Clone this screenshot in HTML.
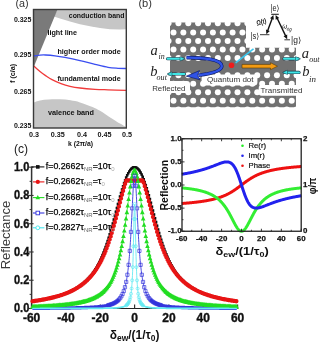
<!DOCTYPE html>
<html><head><meta charset="utf-8"><title>Figure</title>
<style>html,body{margin:0;padding:0;background:#fff;} svg{display:block;}</style></head>
<body><svg width="320" height="342" viewBox="0 0 320 342">
<rect width="320" height="342" fill="#fff"/>
<text x="15.5" y="6.7" font-size="10.5" font-weight="normal" text-anchor="start" fill="#333" font-family='"Liberation Sans", Arial, sans-serif' textLength="13.2" lengthAdjust="spacingAndGlyphs">(a)</text>
<polygon points="57.50,9.50 126.30,9.50 126.30,29.20 120.00,29.50 110.00,29.30 100.00,28.10 90.00,26.30 80.00,24.20 70.00,21.60 60.00,18.60 53.80,16.60" fill="#c6c6c6"/>
<path d="M33.50,102.50 C34.58,102.15 37.46,100.92 40.00,100.40 C42.54,99.88 45.42,99.58 48.75,99.40 C52.08,99.22 56.36,99.15 60.00,99.30 C63.64,99.45 67.27,99.78 70.60,100.30 C73.93,100.82 76.35,101.28 80.00,102.40 C83.65,103.52 89.17,105.60 92.50,107.00 C95.83,108.40 96.92,108.97 100.00,110.80 C103.08,112.63 107.67,115.87 111.00,118.00 C114.33,120.13 117.45,122.07 120.00,123.60 C122.55,125.13 125.25,126.60 126.30,127.20 L126.3,128.0 L33.5,128.0 Z" fill="#c6c6c6"/>
<polygon points="33.50,9.50 57.50,9.50 33.50,67.50" fill="#7a7a7a"/>
<path d="M33.80,56.00 C34.83,55.85 38.03,55.27 40.00,55.10 C41.97,54.93 43.10,54.88 45.60,55.00 C48.10,55.12 51.77,55.40 55.00,55.80 C58.23,56.20 60.83,56.60 65.00,57.40 C69.17,58.20 75.00,59.43 80.00,60.60 C85.00,61.77 90.33,63.27 95.00,64.40 C99.67,65.53 104.17,66.75 108.00,67.40 C111.83,68.05 114.95,68.12 118.00,68.30 C121.05,68.48 124.92,68.47 126.30,68.50" fill="none" stroke="#3a4ef0" stroke-width="1.3"/>
<path d="M33.80,66.00 C34.83,66.92 38.03,69.90 40.00,71.50 C41.97,73.10 43.60,74.25 45.60,75.60 C47.60,76.95 49.43,78.27 52.00,79.60 C54.57,80.93 58.00,82.48 61.00,83.60 C64.00,84.72 66.83,85.57 70.00,86.30 C73.17,87.03 75.83,87.50 80.00,88.00 C84.17,88.50 90.33,89.00 95.00,89.30 C99.67,89.60 102.78,89.63 108.00,89.80 C113.22,89.97 123.25,90.22 126.30,90.30" fill="none" stroke="#f03a3a" stroke-width="1.3"/>
<rect x="33.5" y="9.5" width="92.8" height="118.5" fill="none" stroke="#3a3a3a" stroke-width="1.4"/>
<text x="68.8" y="18.1" font-size="7" font-weight="bold" text-anchor="start" fill="#111" font-family='"Liberation Sans", Arial, sans-serif' textLength="55.7" lengthAdjust="spacingAndGlyphs">conduction band</text>
<text x="47.5" y="35.1" font-size="7" font-weight="bold" text-anchor="start" fill="#111" font-family='"Liberation Sans", Arial, sans-serif' textLength="29.5" lengthAdjust="spacingAndGlyphs">light line</text>
<text x="57.5" y="53.8" font-size="7" font-weight="bold" text-anchor="start" fill="#111" font-family='"Liberation Sans", Arial, sans-serif' textLength="63.1" lengthAdjust="spacingAndGlyphs">higher order mode</text>
<text x="57.5" y="81.0" font-size="7" font-weight="bold" text-anchor="start" fill="#111" font-family='"Liberation Sans", Arial, sans-serif' textLength="63.1" lengthAdjust="spacingAndGlyphs">fundamental mode</text>
<text x="48.0" y="115.1" font-size="7" font-weight="bold" text-anchor="start" fill="#111" font-family='"Liberation Sans", Arial, sans-serif' textLength="46" lengthAdjust="spacingAndGlyphs">valence band</text>
<text x="31.4" y="22.1" font-size="7.2" font-weight="bold" text-anchor="end" fill="#111" font-family='"Liberation Sans", Arial, sans-serif' textLength="17.5" lengthAdjust="spacingAndGlyphs">0.325</text>
<text x="31.4" y="57.1" font-size="7.2" font-weight="bold" text-anchor="end" fill="#111" font-family='"Liberation Sans", Arial, sans-serif' textLength="17.5" lengthAdjust="spacingAndGlyphs">0.295</text>
<text x="31.4" y="93.85" font-size="7.2" font-weight="bold" text-anchor="end" fill="#111" font-family='"Liberation Sans", Arial, sans-serif' textLength="17.5" lengthAdjust="spacingAndGlyphs">0.265</text>
<text x="31.4" y="128.1" font-size="7.2" font-weight="bold" text-anchor="end" fill="#111" font-family='"Liberation Sans", Arial, sans-serif' textLength="17.5" lengthAdjust="spacingAndGlyphs">0.235</text>
<text x="33.9" y="137.1" font-size="7.2" font-weight="bold" text-anchor="middle" fill="#111" font-family='"Liberation Sans", Arial, sans-serif'>0.3</text>
<text x="57.8" y="137.1" font-size="7.2" font-weight="bold" text-anchor="middle" fill="#111" font-family='"Liberation Sans", Arial, sans-serif'>0.35</text>
<text x="82" y="137.1" font-size="7.2" font-weight="bold" text-anchor="middle" fill="#111" font-family='"Liberation Sans", Arial, sans-serif'>0.4</text>
<text x="104.5" y="137.1" font-size="7.2" font-weight="bold" text-anchor="middle" fill="#111" font-family='"Liberation Sans", Arial, sans-serif'>0.45</text>
<text x="127" y="137.1" font-size="7.2" font-weight="bold" text-anchor="middle" fill="#111" font-family='"Liberation Sans", Arial, sans-serif'>0.5</text>
<text x="80.5" y="145.6" font-size="7" font-weight="bold" text-anchor="middle" fill="#111" font-family='"Liberation Sans", Arial, sans-serif' textLength="25" lengthAdjust="spacingAndGlyphs">k (2π/a)</text>
<g transform="translate(15.1,73.4) rotate(-90)"><text x="0" y="0" font-size="7.2" font-weight="bold" text-anchor="middle" fill="#111" font-family='"Liberation Sans", Arial, sans-serif' textLength="19.3" lengthAdjust="spacingAndGlyphs">f (c/a)</text></g>
<text x="138.4" y="6.7" font-size="10.5" font-weight="normal" text-anchor="start" fill="#333" font-family='"Liberation Sans", Arial, sans-serif' textLength="13.6" lengthAdjust="spacingAndGlyphs">(b)</text>
<path d="M170,22.6 H246 V47.8 H296 V107.2 H170 Z" fill="#717171"/>
<g fill="#fff"><circle cx="168.57" cy="23.30" r="3.0"/><circle cx="178.42" cy="23.30" r="3.0"/><circle cx="188.27" cy="23.30" r="3.0"/><circle cx="198.12" cy="23.30" r="3.0"/><circle cx="207.97" cy="23.30" r="3.0"/><circle cx="217.82" cy="23.30" r="3.0"/><circle cx="227.67" cy="23.30" r="3.0"/><circle cx="237.52" cy="23.30" r="3.0"/><circle cx="247.38" cy="23.30" r="3.0"/><circle cx="173.50" cy="32.45" r="3.0"/><circle cx="183.35" cy="32.45" r="3.0"/><circle cx="193.20" cy="32.45" r="3.0"/><circle cx="203.05" cy="32.45" r="3.0"/><circle cx="212.90" cy="32.45" r="3.0"/><circle cx="222.75" cy="32.45" r="3.0"/><circle cx="232.60" cy="32.45" r="3.0"/><circle cx="242.45" cy="32.45" r="3.0"/><circle cx="168.57" cy="41.00" r="3.0"/><circle cx="178.42" cy="41.00" r="3.0"/><circle cx="188.27" cy="41.00" r="3.0"/><circle cx="198.12" cy="41.00" r="3.0"/><circle cx="207.97" cy="41.00" r="3.0"/><circle cx="217.82" cy="41.00" r="3.0"/><circle cx="227.67" cy="41.00" r="3.0"/><circle cx="237.52" cy="41.00" r="3.0"/><circle cx="247.38" cy="41.00" r="3.0"/><circle cx="173.50" cy="49.55" r="3.0"/><circle cx="183.35" cy="49.55" r="3.0"/><circle cx="193.20" cy="49.55" r="3.0"/><circle cx="203.05" cy="49.55" r="3.0"/><circle cx="212.90" cy="49.55" r="3.0"/><circle cx="222.75" cy="49.55" r="3.0"/><circle cx="232.60" cy="49.55" r="3.0"/><circle cx="242.45" cy="49.55" r="3.0"/><circle cx="252.30" cy="49.55" r="3.0"/><circle cx="262.15" cy="49.55" r="3.0"/><circle cx="272.00" cy="49.55" r="3.0"/><circle cx="281.85" cy="49.55" r="3.0"/><circle cx="291.70" cy="49.55" r="3.0"/><circle cx="168.57" cy="58.10" r="3.0"/><circle cx="178.42" cy="58.10" r="3.0"/><circle cx="188.27" cy="58.10" r="3.0"/><circle cx="198.12" cy="58.10" r="3.0"/><circle cx="207.97" cy="58.10" r="3.0"/><circle cx="217.82" cy="58.10" r="3.0"/><circle cx="227.67" cy="58.10" r="3.0"/><circle cx="237.52" cy="58.10" r="3.0"/><circle cx="247.38" cy="58.10" r="3.0"/><circle cx="257.22" cy="58.10" r="3.0"/><circle cx="267.07" cy="58.10" r="3.0"/><circle cx="276.92" cy="58.10" r="3.0"/><circle cx="286.77" cy="58.10" r="3.0"/><circle cx="296.62" cy="58.10" r="3.0"/><circle cx="168.57" cy="75.20" r="3.0"/><circle cx="178.42" cy="75.20" r="3.0"/><circle cx="188.27" cy="75.20" r="3.0"/><circle cx="198.12" cy="75.20" r="3.0"/><circle cx="207.97" cy="75.20" r="3.0"/><circle cx="217.82" cy="75.20" r="3.0"/><circle cx="227.67" cy="75.20" r="3.0"/><circle cx="237.52" cy="75.20" r="3.0"/><circle cx="247.38" cy="75.20" r="3.0"/><circle cx="257.22" cy="75.20" r="3.0"/><circle cx="267.07" cy="75.20" r="3.0"/><circle cx="276.92" cy="75.20" r="3.0"/><circle cx="286.77" cy="75.20" r="3.0"/><circle cx="296.62" cy="75.20" r="3.0"/><circle cx="173.50" cy="83.75" r="3.0"/><circle cx="183.35" cy="83.75" r="3.0"/><circle cx="193.20" cy="83.75" r="3.0"/><circle cx="203.05" cy="83.75" r="3.0"/><circle cx="212.90" cy="83.75" r="3.0"/><circle cx="222.75" cy="83.75" r="3.0"/><circle cx="232.60" cy="83.75" r="3.0"/><circle cx="242.45" cy="83.75" r="3.0"/><circle cx="252.30" cy="83.75" r="3.0"/><circle cx="262.15" cy="83.75" r="3.0"/><circle cx="272.00" cy="83.75" r="3.0"/><circle cx="281.85" cy="83.75" r="3.0"/><circle cx="291.70" cy="83.75" r="3.0"/><circle cx="168.57" cy="92.30" r="3.0"/><circle cx="178.42" cy="92.30" r="3.0"/><circle cx="188.27" cy="92.30" r="3.0"/><circle cx="198.12" cy="92.30" r="3.0"/><circle cx="207.97" cy="92.30" r="3.0"/><circle cx="217.82" cy="92.30" r="3.0"/><circle cx="227.67" cy="92.30" r="3.0"/><circle cx="237.52" cy="92.30" r="3.0"/><circle cx="247.38" cy="92.30" r="3.0"/><circle cx="257.22" cy="92.30" r="3.0"/><circle cx="267.07" cy="92.30" r="3.0"/><circle cx="276.92" cy="92.30" r="3.0"/><circle cx="286.77" cy="92.30" r="3.0"/><circle cx="296.62" cy="92.30" r="3.0"/><circle cx="173.50" cy="100.85" r="3.0"/><circle cx="183.35" cy="100.85" r="3.0"/><circle cx="193.20" cy="100.85" r="3.0"/><circle cx="203.05" cy="100.85" r="3.0"/><circle cx="212.90" cy="100.85" r="3.0"/><circle cx="222.75" cy="100.85" r="3.0"/><circle cx="232.60" cy="100.85" r="3.0"/><circle cx="242.45" cy="100.85" r="3.0"/><circle cx="252.30" cy="100.85" r="3.0"/><circle cx="262.15" cy="100.85" r="3.0"/><circle cx="272.00" cy="100.85" r="3.0"/><circle cx="281.85" cy="100.85" r="3.0"/><circle cx="291.70" cy="100.85" r="3.0"/><circle cx="168.57" cy="109.40" r="3.0"/><circle cx="178.42" cy="109.40" r="3.0"/><circle cx="188.27" cy="109.40" r="3.0"/><circle cx="198.12" cy="109.40" r="3.0"/><circle cx="207.97" cy="109.40" r="3.0"/><circle cx="217.82" cy="109.40" r="3.0"/><circle cx="227.67" cy="109.40" r="3.0"/><circle cx="237.52" cy="109.40" r="3.0"/><circle cx="247.38" cy="109.40" r="3.0"/><circle cx="257.22" cy="109.40" r="3.0"/><circle cx="267.07" cy="109.40" r="3.0"/><circle cx="276.92" cy="109.40" r="3.0"/><circle cx="286.77" cy="109.40" r="3.0"/><circle cx="296.62" cy="109.40" r="3.0"/></g>
<rect x="150" y="81" width="40" height="12" rx="3" fill="#fff"/>
<rect x="201.6" y="74.6" width="55.8" height="10.9" rx="3" fill="#fff"/>
<rect x="258.7" y="84.9" width="45" height="10.9" rx="3" fill="#fff"/>
<text x="152.2" y="90.9" font-size="7.6" font-weight="normal" text-anchor="start" fill="#333" font-family='"Liberation Sans", Arial, sans-serif' textLength="33.2" lengthAdjust="spacingAndGlyphs">Reflected</text>
<text x="207.0" y="82.1" font-size="7.6" font-weight="normal" text-anchor="start" fill="#333" font-family='"Liberation Sans", Arial, sans-serif' textLength="46.6" lengthAdjust="spacingAndGlyphs">Quantum dot</text>
<text x="260.5" y="93.0" font-size="7.6" font-weight="normal" text-anchor="start" fill="#333" font-family='"Liberation Sans", Arial, sans-serif' textLength="42" lengthAdjust="spacingAndGlyphs">Transmitted</text>
<line x1="167.5" y1="58.75" x2="182.5" y2="58.75" stroke="#1d3b4a" stroke-width="3.2" stroke-linecap="round"/><line x1="167.5" y1="58.75" x2="182.5" y2="58.75" stroke="#3fe6e6" stroke-width="2.0" stroke-linecap="round"/><polygon points="185.0,58.75 180.0,56.55 180.0,60.95" fill="#3fe6e6" stroke="#1d3b4a" stroke-width="0.5"/>
<line x1="169.5" y1="74.0" x2="184.5" y2="74.0" stroke="#1d3b4a" stroke-width="3.2" stroke-linecap="round"/><line x1="169.5" y1="74.0" x2="184.5" y2="74.0" stroke="#3fe6e6" stroke-width="2.0" stroke-linecap="round"/><polygon points="167.0,74.0 172.0,71.8 172.0,76.2" fill="#3fe6e6" stroke="#1d3b4a" stroke-width="0.5"/>
<line x1="284.0" y1="58.8" x2="298.0" y2="58.8" stroke="#1d3b4a" stroke-width="3.2" stroke-linecap="round"/><line x1="284.0" y1="58.8" x2="298.0" y2="58.8" stroke="#3fe6e6" stroke-width="2.0" stroke-linecap="round"/><polygon points="300.5,58.8 295.5,56.599999999999994 295.5,61.0" fill="#3fe6e6" stroke="#1d3b4a" stroke-width="0.5"/>
<line x1="285.0" y1="72.4" x2="299.0" y2="72.4" stroke="#1d3b4a" stroke-width="3.2" stroke-linecap="round"/><line x1="285.0" y1="72.4" x2="299.0" y2="72.4" stroke="#3fe6e6" stroke-width="2.0" stroke-linecap="round"/><polygon points="282.5,72.4 287.5,70.2 287.5,74.60000000000001" fill="#3fe6e6" stroke="#1d3b4a" stroke-width="0.5"/>
<text x="150.6" y="55.2" font-size="14.5" font-weight="normal" text-anchor="start" fill="#222" font-family='"Liberation Serif", "Times New Roman", serif' font-style="italic">a</text>
<text x="158.6" y="59.0" font-size="7.8" font-weight="normal" text-anchor="start" fill="#222" font-family='"Liberation Serif", "Times New Roman", serif' textLength="6.2" lengthAdjust="spacingAndGlyphs" font-style="italic">in</text>
<text x="150.2" y="75.9" font-size="14.5" font-weight="normal" text-anchor="start" fill="#222" font-family='"Liberation Serif", "Times New Roman", serif' font-style="italic">b</text>
<text x="156.6" y="79.8" font-size="7.8" font-weight="normal" text-anchor="start" fill="#222" font-family='"Liberation Serif", "Times New Roman", serif' textLength="10.3" lengthAdjust="spacingAndGlyphs" font-style="italic">out</text>
<text x="301.7" y="58.0" font-size="14.5" font-weight="normal" text-anchor="start" fill="#222" font-family='"Liberation Serif", "Times New Roman", serif' font-style="italic">a</text>
<text x="309.2" y="62.2" font-size="7.8" font-weight="normal" text-anchor="start" fill="#222" font-family='"Liberation Serif", "Times New Roman", serif' textLength="10.4" lengthAdjust="spacingAndGlyphs" font-style="italic">out</text>
<text x="302.3" y="76.2" font-size="14.5" font-weight="normal" text-anchor="start" fill="#222" font-family='"Liberation Serif", "Times New Roman", serif' font-style="italic">b</text>
<text x="309.0" y="81.8" font-size="7.8" font-weight="normal" text-anchor="start" fill="#222" font-family='"Liberation Serif", "Times New Roman", serif' textLength="7" lengthAdjust="spacingAndGlyphs" font-style="italic">in</text>
<path d="M186.5,57.6 C203,57.4 221.8,59.5 221.8,66 C221.8,71.5 210,73.8 198.5,75.2" fill="none" stroke="#0d1c66" stroke-width="3.6"/>
<path d="M186.5,57.6 C203,57.4 221.8,59.5 221.8,66 C221.8,71.5 210,73.8 198.5,75.2" fill="none" stroke="#2f52e6" stroke-width="2.4"/>
<polygon points="186.3,76.2 199.5,70.6 197.5,75.4 200,79.8" fill="#2f52e6" stroke="#0d1c66" stroke-width="0.7" stroke-linejoin="round"/>
<line x1="235.6" y1="62.8" x2="253.5" y2="48.8" stroke="#39c8f0" stroke-width="1.6"/>
<circle cx="231.5" cy="65.3" r="2.8" fill="#ee1c1c"/>
<polygon points="242,64.4 270.5,64.4 270.5,62.7 277.5,66.2 270.5,69.7 270.5,68 242,68" fill="#f39a12" stroke="#5a3a00" stroke-width="0.6" stroke-linejoin="round"/>
<text x="275.0" y="11.0" font-size="8.2" font-weight="normal" text-anchor="middle" fill="#222" font-family='"Liberation Sans", "DejaVu Sans", sans-serif' textLength="8.8" lengthAdjust="spacingAndGlyphs">|e⟩</text>
<line x1="271.2" y1="14.3" x2="278.8" y2="14.3" stroke="#222" stroke-width="1.1"/>
<text x="254.8" y="39.4" font-size="8.2" font-weight="normal" text-anchor="middle" fill="#222" font-family='"Liberation Sans", "DejaVu Sans", sans-serif' textLength="8.6" lengthAdjust="spacingAndGlyphs">|s⟩</text>
<line x1="260" y1="34.7" x2="269.4" y2="34.7" stroke="#222" stroke-width="0.9"/>
<text x="296.2" y="43.2" font-size="8.2" font-weight="normal" text-anchor="middle" fill="#222" font-family='"Liberation Sans", "DejaVu Sans", sans-serif' textLength="10.2" lengthAdjust="spacingAndGlyphs">|g⟩</text>
<line x1="284.4" y1="39.8" x2="290" y2="39.8" stroke="#222" stroke-width="0.9"/>
<line x1="272.25" y1="18.16" x2="267.55" y2="31.04" stroke="#111" stroke-width="1.4"/><polygon points="273.40,15.00 270.08,18.26 273.84,19.63" fill="#111"/><polygon points="266.40,34.20 265.96,29.57 269.72,30.94" fill="#111"/>
<line x1="277.05" y1="18.03" x2="285.75" y2="36.17" stroke="#111" stroke-width="1.4"/><polygon points="275.60,15.00 275.61,19.65 279.22,17.92" fill="#111"/><polygon points="287.20,39.20 283.58,36.28 287.19,34.55" fill="#111"/>
<g transform="translate(262.0,24.3) rotate(-18)"><text x="0" y="0" font-size="7.2" font-weight="bold" text-anchor="middle" fill="#222" font-family='"Liberation Sans", Arial, sans-serif' textLength="10" lengthAdjust="spacingAndGlyphs" font-style="italic">Ω(t)</text></g>
<g transform="translate(286.8,28.8) rotate(10)"><text x="0" y="0" font-size="7.5" font-weight="normal" text-anchor="middle" fill="#222" font-family='"Liberation Sans", Arial, sans-serif' textLength="10" lengthAdjust="spacingAndGlyphs" font-style="italic">ω<tspan font-size="5.5" dy="1.8">eg</tspan></text></g>
<text x="13.9" y="152.8" font-size="12.6" font-weight="normal" text-anchor="start" fill="#222" font-family='"Liberation Sans", Arial, sans-serif' textLength="14.2" lengthAdjust="spacingAndGlyphs">(c)</text>
<line x1="31.6" y1="166.5" x2="31.6" y2="308.4" stroke="#333" stroke-width="1.5"/>
<line x1="31.6" y1="308.5" x2="237.5" y2="308.5" stroke="#222" stroke-width="1.2"/>
<line x1="28.8" y1="167.20" x2="33.6" y2="167.20" stroke="#333" stroke-width="1.1"/>
<text x="29.3" y="171.0" font-size="12" font-weight="bold" text-anchor="end" fill="#111" font-family='"Liberation Sans", Arial, sans-serif' textLength="15.3" lengthAdjust="spacingAndGlyphs" stroke="#111" stroke-width="0.35">1.0</text>
<line x1="28.8" y1="195.46" x2="33.6" y2="195.46" stroke="#333" stroke-width="1.1"/>
<text x="29.3" y="199.26" font-size="12" font-weight="bold" text-anchor="end" fill="#111" font-family='"Liberation Sans", Arial, sans-serif' textLength="15.3" lengthAdjust="spacingAndGlyphs" stroke="#111" stroke-width="0.35">0.8</text>
<line x1="28.8" y1="223.72" x2="33.6" y2="223.72" stroke="#333" stroke-width="1.1"/>
<text x="29.3" y="227.52" font-size="12" font-weight="bold" text-anchor="end" fill="#111" font-family='"Liberation Sans", Arial, sans-serif' textLength="15.3" lengthAdjust="spacingAndGlyphs" stroke="#111" stroke-width="0.35">0.6</text>
<line x1="28.8" y1="251.98" x2="33.6" y2="251.98" stroke="#333" stroke-width="1.1"/>
<text x="29.3" y="255.78" font-size="12" font-weight="bold" text-anchor="end" fill="#111" font-family='"Liberation Sans", Arial, sans-serif' textLength="15.3" lengthAdjust="spacingAndGlyphs" stroke="#111" stroke-width="0.35">0.4</text>
<line x1="28.8" y1="280.24" x2="33.6" y2="280.24" stroke="#333" stroke-width="1.1"/>
<text x="29.3" y="284.04" font-size="12" font-weight="bold" text-anchor="end" fill="#111" font-family='"Liberation Sans", Arial, sans-serif' textLength="15.3" lengthAdjust="spacingAndGlyphs" stroke="#111" stroke-width="0.35">0.2</text>
<line x1="28.8" y1="308.50" x2="33.6" y2="308.50" stroke="#333" stroke-width="1.1"/>
<text x="29.3" y="312.3" font-size="12" font-weight="bold" text-anchor="end" fill="#111" font-family='"Liberation Sans", Arial, sans-serif' textLength="15.3" lengthAdjust="spacingAndGlyphs" stroke="#111" stroke-width="0.35">0.0</text>
<line x1="29.6" y1="181.33" x2="31.6" y2="181.33" stroke="#333" stroke-width="1"/>
<line x1="29.6" y1="209.59" x2="31.6" y2="209.59" stroke="#333" stroke-width="1"/>
<line x1="29.6" y1="237.85" x2="31.6" y2="237.85" stroke="#333" stroke-width="1"/>
<line x1="29.6" y1="266.11" x2="31.6" y2="266.11" stroke="#333" stroke-width="1"/>
<line x1="29.6" y1="294.37" x2="31.6" y2="294.37" stroke="#333" stroke-width="1"/>
<line x1="31.60" y1="308.4" x2="31.60" y2="304.5" stroke="#333" stroke-width="1.2"/>
<text x="31.598" y="321.7" font-size="12" font-weight="bold" text-anchor="middle" fill="#111" font-family='"Liberation Sans", Arial, sans-serif' stroke="#111" stroke-width="0.35">-60</text>
<line x1="65.93" y1="308.4" x2="65.93" y2="304.5" stroke="#333" stroke-width="1.2"/>
<text x="65.932" y="321.7" font-size="12" font-weight="bold" text-anchor="middle" fill="#111" font-family='"Liberation Sans", Arial, sans-serif' stroke="#111" stroke-width="0.35">-40</text>
<line x1="100.27" y1="308.4" x2="100.27" y2="304.5" stroke="#333" stroke-width="1.2"/>
<text x="100.26599999999999" y="321.7" font-size="12" font-weight="bold" text-anchor="middle" fill="#111" font-family='"Liberation Sans", Arial, sans-serif' stroke="#111" stroke-width="0.35">-20</text>
<line x1="134.60" y1="308.4" x2="134.60" y2="304.5" stroke="#333" stroke-width="1.2"/>
<text x="134.6" y="321.7" font-size="12" font-weight="bold" text-anchor="middle" fill="#111" font-family='"Liberation Sans", Arial, sans-serif' stroke="#111" stroke-width="0.35">0</text>
<line x1="168.93" y1="308.4" x2="168.93" y2="304.5" stroke="#333" stroke-width="1.2"/>
<text x="168.934" y="321.7" font-size="12" font-weight="bold" text-anchor="middle" fill="#111" font-family='"Liberation Sans", Arial, sans-serif' stroke="#111" stroke-width="0.35">20</text>
<line x1="203.27" y1="308.4" x2="203.27" y2="304.5" stroke="#333" stroke-width="1.2"/>
<text x="203.26799999999997" y="321.7" font-size="12" font-weight="bold" text-anchor="middle" fill="#111" font-family='"Liberation Sans", Arial, sans-serif' stroke="#111" stroke-width="0.35">40</text>
<line x1="237.60" y1="308.4" x2="237.60" y2="304.5" stroke="#333" stroke-width="1.2"/>
<text x="237.60199999999998" y="321.7" font-size="12" font-weight="bold" text-anchor="middle" fill="#111" font-family='"Liberation Sans", Arial, sans-serif' stroke="#111" stroke-width="0.35">60</text>
<polyline points="32.46,301.29 33.17,301.19 33.88,301.09 34.60,300.99 35.31,300.89 36.03,300.78 36.74,300.68 37.45,300.57 38.17,300.46 38.88,300.34 39.60,300.23 40.31,300.11 41.03,299.99 41.74,299.87 42.45,299.74 43.17,299.61 43.88,299.48 44.60,299.34 45.31,299.21 46.02,299.07 46.74,298.92 47.45,298.78 48.17,298.63 48.88,298.47 49.59,298.32 50.31,298.16 51.02,297.99 51.74,297.82 52.45,297.65 53.16,297.47 53.88,297.29 54.59,297.11 55.31,296.92 56.02,296.73 56.74,296.53 57.45,296.32 58.16,296.11 58.88,295.90 59.59,295.68 60.31,295.46 61.02,295.22 61.73,294.99 62.45,294.74 63.16,294.49 63.88,294.24 64.59,293.98 65.30,293.70 66.02,293.43 66.73,293.14 67.45,292.85 68.16,292.55 68.87,292.24 69.59,291.92 70.30,291.59 71.02,291.25 71.73,290.90 72.45,290.54 73.16,290.17 73.87,289.79 74.59,289.40 75.30,288.99 76.02,288.57 76.73,288.14 77.44,287.70 78.16,287.24 78.87,286.76 79.59,286.27 80.30,285.76 81.01,285.24 81.73,284.69 82.44,284.13 83.16,283.55 83.87,282.94 84.58,282.32 85.30,281.67 86.01,280.99 86.73,280.29 87.44,279.57 88.16,278.81 88.87,278.03 89.58,277.22 90.30,276.37 91.01,275.49 91.73,274.57 92.44,273.62 93.15,272.63 93.87,271.59 94.58,270.52 95.30,269.40 96.01,268.23 96.72,267.01 97.44,265.74 98.15,264.42 98.87,263.05 99.58,261.61 100.29,260.12 101.01,258.57 101.72,256.95 102.44,255.27 103.15,253.52 103.87,251.71 104.58,249.83 105.29,247.87 106.01,245.85 106.72,243.76 107.44,241.61 108.15,239.38 108.86,237.09 109.58,234.73 110.29,232.32 111.01,229.85 111.72,227.33 112.43,224.76 113.15,222.14 113.86,219.50 114.58,216.83 115.29,214.14 116.00,211.44 116.72,208.74 117.43,206.04 117.43,206.04 117.61,205.40 117.78,204.75 117.95,204.10 118.12,203.46 118.30,202.82 118.47,202.18 118.64,201.54 118.81,200.90 118.99,200.27 119.16,199.64 119.33,199.01 119.50,198.38 119.68,197.76 119.85,197.14 120.02,196.52 120.19,195.91 120.37,195.30 120.54,194.69 120.71,194.09 120.88,193.49 121.06,192.90 121.23,192.31 121.40,191.72 121.57,191.14 121.75,190.56 121.92,189.99 122.09,189.42 122.26,188.85 122.44,188.30 122.61,187.74 122.78,187.20 122.95,186.65 123.13,186.12 123.30,185.59 123.47,185.06 123.64,184.54 123.82,184.03 123.99,183.52 124.16,183.02 124.33,182.53 124.51,182.04 124.68,181.56 124.85,181.08 125.02,180.61 125.20,180.15 125.37,179.70 125.54,179.25 125.71,178.81 125.89,178.38 126.06,177.95 126.23,177.54 126.40,177.13 126.58,176.72 126.75,176.33 126.92,175.94 127.09,175.56 127.27,175.19 127.44,174.82 127.61,174.47 127.78,174.12 127.96,173.78 128.13,173.45 128.30,173.12 128.48,172.81 128.65,172.50 128.82,172.20 128.99,171.91 129.17,171.63 129.34,171.35 129.51,171.09 129.68,170.83 129.86,170.58 130.03,170.34 130.20,170.11 130.37,169.89 130.55,169.67 130.72,169.47 130.89,169.27 131.06,169.09 131.24,168.91 131.41,168.74 131.58,168.58 131.75,168.42 131.93,168.28 132.10,168.15 132.27,168.02 132.44,167.90 132.62,167.80 132.79,167.70 132.96,167.61 133.13,167.53 133.31,167.45 133.48,167.39 133.65,167.34 133.82,167.29 134.00,167.26 134.17,167.23 134.34,167.21 134.51,167.20 134.69,167.20 134.86,167.21 135.03,167.23 135.20,167.26 135.38,167.29 135.55,167.34 135.72,167.39 135.89,167.45 136.07,167.53 136.24,167.61 136.41,167.70 136.58,167.80 136.76,167.90 136.93,168.02 137.10,168.15 137.27,168.28 137.45,168.42 137.62,168.58 137.79,168.74 137.96,168.91 138.14,169.09 138.31,169.27 138.48,169.47 138.65,169.67 138.83,169.89 139.00,170.11 139.17,170.34 139.34,170.58 139.52,170.83 139.69,171.09 139.86,171.35 140.03,171.63 140.21,171.91 140.38,172.20 140.55,172.50 140.72,172.81 140.90,173.12 141.07,173.45 141.24,173.78 141.42,174.12 141.59,174.47 141.76,174.82 141.93,175.19 142.11,175.56 142.28,175.94 142.45,176.33 142.62,176.72 142.80,177.13 142.97,177.54 143.14,177.95 143.31,178.38 143.49,178.81 143.66,179.25 143.83,179.70 144.00,180.15 144.18,180.61 144.35,181.08 144.52,181.56 144.69,182.04 144.87,182.53 145.04,183.02 145.21,183.52 145.38,184.03 145.56,184.54 145.73,185.06 145.90,185.59 146.07,186.12 146.25,186.65 146.42,187.20 146.59,187.74 146.76,188.30 146.94,188.85 147.11,189.42 147.28,189.99 147.45,190.56 147.63,191.14 147.80,191.72 147.97,192.31 148.14,192.90 148.32,193.49 148.49,194.09 148.66,194.69 148.83,195.30 149.01,195.91 149.18,196.52 149.35,197.14 149.52,197.76 149.70,198.38 149.87,199.01 150.04,199.64 150.21,200.27 150.39,200.90 150.56,201.54 150.73,202.18 150.90,202.82 151.08,203.46 151.25,204.10 151.42,204.75 151.59,205.40 151.77,206.04 151.77,206.04 152.48,208.74 153.20,211.44 153.91,214.14 154.62,216.83 155.34,219.50 156.05,222.14 156.77,224.76 157.48,227.33 158.19,229.85 158.91,232.32 159.62,234.73 160.34,237.09 161.05,239.38 161.76,241.61 162.48,243.76 163.19,245.85 163.91,247.87 164.62,249.83 165.33,251.71 166.05,253.52 166.76,255.27 167.48,256.95 168.19,258.57 168.91,260.12 169.62,261.61 170.33,263.05 171.05,264.42 171.76,265.74 172.48,267.01 173.19,268.23 173.90,269.40 174.62,270.52 175.33,271.59 176.05,272.63 176.76,273.62 177.47,274.57 178.19,275.49 178.90,276.37 179.62,277.22 180.33,278.03 181.04,278.81 181.76,279.57 182.47,280.29 183.19,280.99 183.90,281.67 184.62,282.32 185.33,282.94 186.04,283.55 186.76,284.13 187.47,284.69 188.19,285.24 188.90,285.76 189.61,286.27 190.33,286.76 191.04,287.24 191.76,287.70 192.47,288.14 193.18,288.57 193.90,288.99 194.61,289.40 195.33,289.79 196.04,290.17 196.75,290.54 197.47,290.90 198.18,291.25 198.90,291.59 199.61,291.92 200.33,292.24 201.04,292.55 201.75,292.85 202.47,293.14 203.18,293.43 203.90,293.70 204.61,293.98 205.32,294.24 206.04,294.49 206.75,294.74 207.47,294.99 208.18,295.22 208.89,295.46 209.61,295.68 210.32,295.90 211.04,296.11 211.75,296.32 212.46,296.53 213.18,296.73 213.89,296.92 214.61,297.11 215.32,297.29 216.04,297.47 216.75,297.65 217.46,297.82 218.18,297.99 218.89,298.16 219.61,298.32 220.32,298.47 221.03,298.63 221.75,298.78 222.46,298.92 223.18,299.07 223.89,299.21 224.60,299.34 225.32,299.48 226.03,299.61 226.75,299.74 227.46,299.87 228.17,299.99 228.89,300.11 229.60,300.23 230.32,300.34 231.03,300.46 231.75,300.57 232.46,300.68 233.17,300.78 233.89,300.89 234.60,300.99 235.32,301.09 236.03,301.19 236.74,301.29" fill="none" stroke="#111" stroke-width="1.2" stroke-linejoin="round"/>
<path d="M31.16,299.99h2.6v2.6h-2.6ZM32.19,299.85h2.6v2.6h-2.6ZM33.22,299.70h2.6v2.6h-2.6ZM34.25,299.55h2.6v2.6h-2.6ZM35.28,299.40h2.6v2.6h-2.6ZM36.31,299.25h2.6v2.6h-2.6ZM37.34,299.08h2.6v2.6h-2.6ZM38.37,298.92h2.6v2.6h-2.6ZM39.40,298.74h2.6v2.6h-2.6ZM40.43,298.57h2.6v2.6h-2.6ZM41.46,298.39h2.6v2.6h-2.6ZM42.49,298.20h2.6v2.6h-2.6ZM43.52,298.00h2.6v2.6h-2.6ZM44.55,297.80h2.6v2.6h-2.6ZM45.58,297.60h2.6v2.6h-2.6ZM46.61,297.38h2.6v2.6h-2.6ZM47.64,297.16h2.6v2.6h-2.6ZM48.67,296.93h2.6v2.6h-2.6ZM49.70,296.70h2.6v2.6h-2.6ZM50.73,296.45h2.6v2.6h-2.6ZM51.76,296.20h2.6v2.6h-2.6ZM52.79,295.94h2.6v2.6h-2.6ZM53.82,295.67h2.6v2.6h-2.6ZM54.85,295.39h2.6v2.6h-2.6ZM55.88,295.10h2.6v2.6h-2.6ZM56.91,294.80h2.6v2.6h-2.6ZM57.94,294.49h2.6v2.6h-2.6ZM58.97,294.17h2.6v2.6h-2.6ZM60.00,293.83h2.6v2.6h-2.6ZM61.03,293.49h2.6v2.6h-2.6ZM62.06,293.13h2.6v2.6h-2.6ZM63.09,292.75h2.6v2.6h-2.6ZM64.12,292.36h2.6v2.6h-2.6ZM65.15,291.96h2.6v2.6h-2.6ZM66.18,291.54h2.6v2.6h-2.6ZM67.21,291.10h2.6v2.6h-2.6ZM68.24,290.64h2.6v2.6h-2.6ZM69.27,290.16h2.6v2.6h-2.6ZM70.30,289.67h2.6v2.6h-2.6ZM71.33,289.15h2.6v2.6h-2.6ZM72.36,288.61h2.6v2.6h-2.6ZM73.39,288.04h2.6v2.6h-2.6ZM74.42,287.45h2.6v2.6h-2.6ZM75.45,286.83h2.6v2.6h-2.6ZM76.48,286.18h2.6v2.6h-2.6ZM77.51,285.51h2.6v2.6h-2.6ZM78.54,284.79h2.6v2.6h-2.6ZM79.57,284.05h2.6v2.6h-2.6ZM80.60,283.26h2.6v2.6h-2.6ZM81.63,282.44h2.6v2.6h-2.6ZM82.66,281.57h2.6v2.6h-2.6ZM83.69,280.65h2.6v2.6h-2.6ZM84.72,279.69h2.6v2.6h-2.6ZM85.75,278.67h2.6v2.6h-2.6ZM86.78,277.60h2.6v2.6h-2.6ZM87.81,276.46h2.6v2.6h-2.6ZM88.84,275.26h2.6v2.6h-2.6ZM89.87,273.99h2.6v2.6h-2.6ZM90.90,272.65h2.6v2.6h-2.6ZM91.93,271.22h2.6v2.6h-2.6ZM92.96,269.71h2.6v2.6h-2.6ZM93.99,268.11h2.6v2.6h-2.6ZM95.02,266.41h2.6v2.6h-2.6ZM96.05,264.61h2.6v2.6h-2.6ZM97.08,262.70h2.6v2.6h-2.6ZM98.11,260.67h2.6v2.6h-2.6ZM99.14,258.51h2.6v2.6h-2.6ZM100.17,256.24h2.6v2.6h-2.6ZM101.20,253.82h2.6v2.6h-2.6ZM102.23,251.27h2.6v2.6h-2.6ZM103.26,248.58h2.6v2.6h-2.6ZM104.29,245.75h2.6v2.6h-2.6ZM105.32,242.77h2.6v2.6h-2.6ZM106.35,239.65h2.6v2.6h-2.6ZM107.38,236.39h2.6v2.6h-2.6ZM108.41,233.00h2.6v2.6h-2.6ZM109.44,229.48h2.6v2.6h-2.6ZM110.47,225.86h2.6v2.6h-2.6ZM111.50,222.13h2.6v2.6h-2.6ZM112.53,218.33h2.6v2.6h-2.6ZM113.56,214.47h2.6v2.6h-2.6ZM114.59,210.58h2.6v2.6h-2.6ZM115.62,206.68h2.6v2.6h-2.6ZM116.65,202.81h2.6v2.6h-2.6ZM117.68,199.00h2.6v2.6h-2.6ZM118.71,195.27h2.6v2.6h-2.6ZM119.74,191.66h2.6v2.6h-2.6ZM120.77,188.19h2.6v2.6h-2.6ZM121.80,184.90h2.6v2.6h-2.6ZM122.83,181.82h2.6v2.6h-2.6ZM123.86,178.96h2.6v2.6h-2.6ZM124.89,176.34h2.6v2.6h-2.6ZM125.92,173.99h2.6v2.6h-2.6ZM126.95,171.92h2.6v2.6h-2.6ZM127.98,170.15h2.6v2.6h-2.6ZM129.01,168.67h2.6v2.6h-2.6ZM130.04,167.50h2.6v2.6h-2.6ZM131.07,166.65h2.6v2.6h-2.6ZM132.10,166.12h2.6v2.6h-2.6ZM133.13,165.90h2.6v2.6h-2.6ZM134.16,166.01h2.6v2.6h-2.6ZM135.19,166.44h2.6v2.6h-2.6ZM136.22,167.19h2.6v2.6h-2.6ZM137.25,168.25h2.6v2.6h-2.6ZM138.28,169.62h2.6v2.6h-2.6ZM139.31,171.30h2.6v2.6h-2.6ZM140.34,173.27h2.6v2.6h-2.6ZM141.37,175.53h2.6v2.6h-2.6ZM142.40,178.06h2.6v2.6h-2.6ZM143.43,180.84h2.6v2.6h-2.6ZM144.46,183.85h2.6v2.6h-2.6ZM145.49,187.08h2.6v2.6h-2.6ZM146.52,190.49h2.6v2.6h-2.6ZM147.55,194.05h2.6v2.6h-2.6ZM148.58,197.75h2.6v2.6h-2.6ZM149.61,201.54h2.6v2.6h-2.6ZM150.64,205.39h2.6v2.6h-2.6ZM151.67,209.28h2.6v2.6h-2.6ZM152.70,213.18h2.6v2.6h-2.6ZM153.73,217.05h2.6v2.6h-2.6ZM154.76,220.87h2.6v2.6h-2.6ZM155.79,224.62h2.6v2.6h-2.6ZM156.82,228.29h2.6v2.6h-2.6ZM157.85,231.84h2.6v2.6h-2.6ZM158.88,235.28h2.6v2.6h-2.6ZM159.91,238.58h2.6v2.6h-2.6ZM160.94,241.75h2.6v2.6h-2.6ZM161.97,244.77h2.6v2.6h-2.6ZM163.00,247.65h2.6v2.6h-2.6ZM164.03,250.39h2.6v2.6h-2.6ZM165.06,252.99h2.6v2.6h-2.6ZM166.09,255.45h2.6v2.6h-2.6ZM167.12,257.77h2.6v2.6h-2.6ZM168.15,259.96h2.6v2.6h-2.6ZM169.18,262.03h2.6v2.6h-2.6ZM170.21,263.98h2.6v2.6h-2.6ZM171.24,265.82h2.6v2.6h-2.6ZM172.27,267.56h2.6v2.6h-2.6ZM173.30,269.19h2.6v2.6h-2.6ZM174.33,270.73h2.6v2.6h-2.6ZM175.36,272.18h2.6v2.6h-2.6ZM176.39,273.55h2.6v2.6h-2.6ZM177.42,274.85h2.6v2.6h-2.6ZM178.45,276.07h2.6v2.6h-2.6ZM179.48,277.23h2.6v2.6h-2.6ZM180.51,278.32h2.6v2.6h-2.6ZM181.54,279.36h2.6v2.6h-2.6ZM182.57,280.34h2.6v2.6h-2.6ZM183.60,281.27h2.6v2.6h-2.6ZM184.63,282.15h2.6v2.6h-2.6ZM185.66,282.99h2.6v2.6h-2.6ZM186.69,283.79h2.6v2.6h-2.6ZM187.72,284.55h2.6v2.6h-2.6ZM188.75,285.27h2.6v2.6h-2.6ZM189.78,285.96h2.6v2.6h-2.6ZM190.81,286.62h2.6v2.6h-2.6ZM191.84,287.25h2.6v2.6h-2.6ZM192.87,287.85h2.6v2.6h-2.6ZM193.90,288.42h2.6v2.6h-2.6ZM194.93,288.97h2.6v2.6h-2.6ZM195.96,289.50h2.6v2.6h-2.6ZM196.99,290.00h2.6v2.6h-2.6ZM198.02,290.48h2.6v2.6h-2.6ZM199.05,290.95h2.6v2.6h-2.6ZM200.08,291.39h2.6v2.6h-2.6ZM201.11,291.82h2.6v2.6h-2.6ZM202.14,292.23h2.6v2.6h-2.6ZM203.17,292.62h2.6v2.6h-2.6ZM204.20,293.00h2.6v2.6h-2.6ZM205.23,293.37h2.6v2.6h-2.6ZM206.26,293.72h2.6v2.6h-2.6ZM207.29,294.06h2.6v2.6h-2.6ZM208.32,294.38h2.6v2.6h-2.6ZM209.35,294.70h2.6v2.6h-2.6ZM210.38,295.00h2.6v2.6h-2.6ZM211.41,295.30h2.6v2.6h-2.6ZM212.44,295.58h2.6v2.6h-2.6ZM213.47,295.85h2.6v2.6h-2.6ZM214.50,296.12h2.6v2.6h-2.6ZM215.53,296.37h2.6v2.6h-2.6ZM216.56,296.62h2.6v2.6h-2.6ZM217.59,296.86h2.6v2.6h-2.6ZM218.62,297.09h2.6v2.6h-2.6ZM219.65,297.31h2.6v2.6h-2.6ZM220.68,297.52h2.6v2.6h-2.6ZM221.71,297.73h2.6v2.6h-2.6ZM222.74,297.94h2.6v2.6h-2.6ZM223.77,298.13h2.6v2.6h-2.6ZM224.80,298.32h2.6v2.6h-2.6ZM225.83,298.51h2.6v2.6h-2.6ZM226.86,298.69h2.6v2.6h-2.6ZM227.89,298.86h2.6v2.6h-2.6ZM228.92,299.03h2.6v2.6h-2.6ZM229.95,299.19h2.6v2.6h-2.6ZM230.98,299.35h2.6v2.6h-2.6ZM232.01,299.50h2.6v2.6h-2.6ZM233.04,299.65h2.6v2.6h-2.6ZM234.07,299.80h2.6v2.6h-2.6ZM235.10,299.94h2.6v2.6h-2.6Z" fill="#111"/>
<polyline points="32.46,301.29 33.17,301.19 33.88,301.09 34.60,300.99 35.31,300.89 36.03,300.78 36.74,300.68 37.45,300.57 38.17,300.46 38.88,300.34 39.60,300.23 40.31,300.11 41.03,299.99 41.74,299.87 42.45,299.74 43.17,299.61 43.88,299.48 44.60,299.34 45.31,299.21 46.02,299.07 46.74,298.92 47.45,298.78 48.17,298.63 48.88,298.47 49.59,298.32 50.31,298.16 51.02,297.99 51.74,297.82 52.45,297.65 53.16,297.47 53.88,297.29 54.59,297.11 55.31,296.92 56.02,296.73 56.74,296.53 57.45,296.32 58.16,296.12 58.88,295.90 59.59,295.68 60.31,295.46 61.02,295.23 61.73,294.99 62.45,294.75 63.16,294.50 63.88,294.24 64.59,293.98 65.30,293.71 66.02,293.44 66.73,293.15 67.45,292.86 68.16,292.56 68.87,292.25 69.59,291.94 70.30,291.61 71.02,291.28 71.73,290.93 72.45,290.58 73.16,290.21 73.87,289.84 74.59,289.45 75.30,289.05 76.02,288.64 76.73,288.22 77.44,287.78 78.16,287.33 78.87,286.87 79.59,286.39 80.30,285.90 81.01,285.39 81.73,284.87 82.44,284.33 83.16,283.77 83.87,283.19 84.58,282.59 85.30,281.98 86.01,281.34 86.73,280.68 87.44,280.00 88.16,279.30 88.87,278.57 89.58,277.81 90.30,277.03 91.01,276.22 91.73,275.38 92.44,274.51 93.15,273.60 93.87,272.67 94.58,271.70 95.30,270.69 96.01,269.64 96.72,268.55 97.44,267.43 98.15,266.25 98.87,265.03 99.58,263.77 100.29,262.45 101.01,261.09 101.72,259.67 102.44,258.19 103.15,256.66 103.87,255.06 104.58,253.41 105.29,251.69 106.01,249.91 106.72,248.06 107.44,246.14 108.15,244.16 108.86,242.10 109.58,239.98 110.29,237.78 111.01,235.52 111.72,233.19 112.43,230.80 113.15,228.34 113.86,225.83 114.58,223.26 115.29,220.64 116.00,217.97 116.72,215.27 117.43,212.54 117.43,212.54 117.61,211.87 117.78,211.21 117.95,210.54 118.12,209.87 118.30,209.21 118.47,208.54 118.64,207.87 118.81,207.20 118.99,206.53 119.16,205.86 119.33,205.20 119.50,204.53 119.68,203.86 119.85,203.19 120.02,202.53 120.19,201.86 120.37,201.20 120.54,200.53 120.71,199.87 120.88,199.21 121.06,198.55 121.23,197.90 121.40,197.24 121.57,196.59 121.75,195.94 121.92,195.30 122.09,194.66 122.26,194.02 122.44,193.38 122.61,192.74 122.78,192.12 122.95,191.49 123.13,190.87 123.30,190.25 123.47,189.64 123.64,189.03 123.82,188.42 123.99,187.83 124.16,187.23 124.33,186.64 124.51,186.06 124.68,185.48 124.85,184.91 125.02,184.35 125.20,183.79 125.37,183.24 125.54,182.69 125.71,182.15 125.89,181.62 126.06,181.10 126.23,180.62 126.40,180.62 126.58,180.62 126.75,180.62 126.92,180.62 127.09,180.62 127.27,180.62 127.44,180.62 127.61,180.62 127.78,180.62 127.96,180.62 128.13,180.62 128.30,180.62 128.48,180.62 128.65,180.62 128.82,180.62 128.99,180.62 129.17,180.62 129.34,180.62 129.51,180.62 129.68,180.62 129.86,180.62 130.03,180.62 130.20,180.62 130.37,180.62 130.55,180.62 130.72,180.62 130.89,180.62 131.06,180.62 131.24,180.62 131.41,180.62 131.58,180.62 131.75,180.62 131.93,180.62 132.10,180.62 132.27,180.62 132.44,180.62 132.62,180.62 132.79,180.62 132.96,180.62 133.13,180.62 133.31,180.62 133.48,180.62 133.65,180.62 133.82,180.62 134.00,180.62 134.17,180.62 134.34,180.62 134.51,180.62 134.69,180.62 134.86,180.62 135.03,180.62 135.20,180.62 135.38,180.62 135.55,180.62 135.72,180.62 135.89,180.62 136.07,180.62 136.24,180.62 136.41,180.62 136.58,180.62 136.76,180.62 136.93,180.62 137.10,180.62 137.27,180.62 137.45,180.62 137.62,180.62 137.79,180.62 137.96,180.62 138.14,180.62 138.31,180.62 138.48,180.62 138.65,180.62 138.83,180.62 139.00,180.62 139.17,180.62 139.34,180.62 139.52,180.62 139.69,180.62 139.86,180.62 140.03,180.62 140.21,180.62 140.38,180.62 140.55,180.62 140.72,180.62 140.90,180.62 141.07,180.62 141.24,180.62 141.42,180.62 141.59,180.62 141.76,180.62 141.93,180.62 142.11,180.62 142.28,180.62 142.45,180.62 142.62,180.62 142.80,180.62 142.97,180.62 143.14,181.10 143.31,181.62 143.49,182.15 143.66,182.69 143.83,183.24 144.00,183.79 144.18,184.35 144.35,184.91 144.52,185.48 144.69,186.06 144.87,186.64 145.04,187.23 145.21,187.83 145.38,188.42 145.56,189.03 145.73,189.64 145.90,190.25 146.07,190.87 146.25,191.49 146.42,192.12 146.59,192.74 146.76,193.38 146.94,194.02 147.11,194.66 147.28,195.30 147.45,195.94 147.63,196.59 147.80,197.24 147.97,197.90 148.14,198.55 148.32,199.21 148.49,199.87 148.66,200.53 148.83,201.20 149.01,201.86 149.18,202.53 149.35,203.19 149.52,203.86 149.70,204.53 149.87,205.20 150.04,205.86 150.21,206.53 150.39,207.20 150.56,207.87 150.73,208.54 150.90,209.21 151.08,209.87 151.25,210.54 151.42,211.21 151.59,211.87 151.77,212.54 151.77,212.54 152.48,215.27 153.20,217.97 153.91,220.64 154.62,223.26 155.34,225.83 156.05,228.34 156.77,230.80 157.48,233.19 158.19,235.52 158.91,237.78 159.62,239.98 160.34,242.10 161.05,244.16 161.76,246.14 162.48,248.06 163.19,249.91 163.91,251.69 164.62,253.41 165.33,255.06 166.05,256.66 166.76,258.19 167.48,259.67 168.19,261.09 168.91,262.45 169.62,263.77 170.33,265.03 171.05,266.25 171.76,267.43 172.48,268.55 173.19,269.64 173.90,270.69 174.62,271.70 175.33,272.67 176.05,273.60 176.76,274.51 177.47,275.38 178.19,276.22 178.90,277.03 179.62,277.81 180.33,278.57 181.04,279.30 181.76,280.00 182.47,280.68 183.19,281.34 183.90,281.98 184.62,282.59 185.33,283.19 186.04,283.77 186.76,284.33 187.47,284.87 188.19,285.39 188.90,285.90 189.61,286.39 190.33,286.87 191.04,287.33 191.76,287.78 192.47,288.22 193.18,288.64 193.90,289.05 194.61,289.45 195.33,289.84 196.04,290.21 196.75,290.58 197.47,290.93 198.18,291.28 198.90,291.61 199.61,291.94 200.33,292.25 201.04,292.56 201.75,292.86 202.47,293.15 203.18,293.44 203.90,293.71 204.61,293.98 205.32,294.24 206.04,294.50 206.75,294.75 207.47,294.99 208.18,295.23 208.89,295.46 209.61,295.68 210.32,295.90 211.04,296.12 211.75,296.32 212.46,296.53 213.18,296.73 213.89,296.92 214.61,297.11 215.32,297.29 216.04,297.47 216.75,297.65 217.46,297.82 218.18,297.99 218.89,298.16 219.61,298.32 220.32,298.47 221.03,298.63 221.75,298.78 222.46,298.92 223.18,299.07 223.89,299.21 224.60,299.34 225.32,299.48 226.03,299.61 226.75,299.74 227.46,299.87 228.17,299.99 228.89,300.11 229.60,300.23 230.32,300.34 231.03,300.46 231.75,300.57 232.46,300.68 233.17,300.78 233.89,300.89 234.60,300.99 235.32,301.09 236.03,301.19 236.74,301.29" fill="none" stroke="#e81414" stroke-width="1.5" stroke-linejoin="round"/>
<path d="M30.31,301.29a2.15,2.15 0 1,0 4.3,0a2.15,2.15 0 1,0 -4.3,0ZM31.34,301.15a2.15,2.15 0 1,0 4.3,0a2.15,2.15 0 1,0 -4.3,0ZM32.37,301.00a2.15,2.15 0 1,0 4.3,0a2.15,2.15 0 1,0 -4.3,0ZM33.40,300.85a2.15,2.15 0 1,0 4.3,0a2.15,2.15 0 1,0 -4.3,0ZM34.43,300.70a2.15,2.15 0 1,0 4.3,0a2.15,2.15 0 1,0 -4.3,0ZM35.46,300.55a2.15,2.15 0 1,0 4.3,0a2.15,2.15 0 1,0 -4.3,0ZM36.49,300.38a2.15,2.15 0 1,0 4.3,0a2.15,2.15 0 1,0 -4.3,0ZM37.52,300.22a2.15,2.15 0 1,0 4.3,0a2.15,2.15 0 1,0 -4.3,0ZM38.55,300.04a2.15,2.15 0 1,0 4.3,0a2.15,2.15 0 1,0 -4.3,0ZM39.58,299.87a2.15,2.15 0 1,0 4.3,0a2.15,2.15 0 1,0 -4.3,0ZM40.61,299.69a2.15,2.15 0 1,0 4.3,0a2.15,2.15 0 1,0 -4.3,0ZM41.64,299.50a2.15,2.15 0 1,0 4.3,0a2.15,2.15 0 1,0 -4.3,0ZM42.67,299.30a2.15,2.15 0 1,0 4.3,0a2.15,2.15 0 1,0 -4.3,0ZM43.70,299.10a2.15,2.15 0 1,0 4.3,0a2.15,2.15 0 1,0 -4.3,0ZM44.73,298.90a2.15,2.15 0 1,0 4.3,0a2.15,2.15 0 1,0 -4.3,0ZM45.76,298.68a2.15,2.15 0 1,0 4.3,0a2.15,2.15 0 1,0 -4.3,0ZM46.79,298.46a2.15,2.15 0 1,0 4.3,0a2.15,2.15 0 1,0 -4.3,0ZM47.82,298.23a2.15,2.15 0 1,0 4.3,0a2.15,2.15 0 1,0 -4.3,0ZM48.85,298.00a2.15,2.15 0 1,0 4.3,0a2.15,2.15 0 1,0 -4.3,0ZM49.88,297.75a2.15,2.15 0 1,0 4.3,0a2.15,2.15 0 1,0 -4.3,0ZM50.91,297.50a2.15,2.15 0 1,0 4.3,0a2.15,2.15 0 1,0 -4.3,0ZM51.94,297.24a2.15,2.15 0 1,0 4.3,0a2.15,2.15 0 1,0 -4.3,0ZM52.97,296.97a2.15,2.15 0 1,0 4.3,0a2.15,2.15 0 1,0 -4.3,0ZM54.00,296.69a2.15,2.15 0 1,0 4.3,0a2.15,2.15 0 1,0 -4.3,0ZM55.03,296.40a2.15,2.15 0 1,0 4.3,0a2.15,2.15 0 1,0 -4.3,0ZM56.06,296.10a2.15,2.15 0 1,0 4.3,0a2.15,2.15 0 1,0 -4.3,0ZM57.09,295.79a2.15,2.15 0 1,0 4.3,0a2.15,2.15 0 1,0 -4.3,0ZM58.12,295.47a2.15,2.15 0 1,0 4.3,0a2.15,2.15 0 1,0 -4.3,0ZM59.15,295.14a2.15,2.15 0 1,0 4.3,0a2.15,2.15 0 1,0 -4.3,0ZM60.18,294.79a2.15,2.15 0 1,0 4.3,0a2.15,2.15 0 1,0 -4.3,0ZM61.21,294.43a2.15,2.15 0 1,0 4.3,0a2.15,2.15 0 1,0 -4.3,0ZM62.24,294.06a2.15,2.15 0 1,0 4.3,0a2.15,2.15 0 1,0 -4.3,0ZM63.27,293.67a2.15,2.15 0 1,0 4.3,0a2.15,2.15 0 1,0 -4.3,0ZM64.30,293.27a2.15,2.15 0 1,0 4.3,0a2.15,2.15 0 1,0 -4.3,0ZM65.33,292.85a2.15,2.15 0 1,0 4.3,0a2.15,2.15 0 1,0 -4.3,0ZM66.36,292.41a2.15,2.15 0 1,0 4.3,0a2.15,2.15 0 1,0 -4.3,0ZM67.39,291.96a2.15,2.15 0 1,0 4.3,0a2.15,2.15 0 1,0 -4.3,0ZM68.42,291.49a2.15,2.15 0 1,0 4.3,0a2.15,2.15 0 1,0 -4.3,0ZM69.45,291.00a2.15,2.15 0 1,0 4.3,0a2.15,2.15 0 1,0 -4.3,0ZM70.48,290.48a2.15,2.15 0 1,0 4.3,0a2.15,2.15 0 1,0 -4.3,0ZM71.51,289.95a2.15,2.15 0 1,0 4.3,0a2.15,2.15 0 1,0 -4.3,0ZM72.54,289.39a2.15,2.15 0 1,0 4.3,0a2.15,2.15 0 1,0 -4.3,0ZM73.57,288.81a2.15,2.15 0 1,0 4.3,0a2.15,2.15 0 1,0 -4.3,0ZM74.60,288.21a2.15,2.15 0 1,0 4.3,0a2.15,2.15 0 1,0 -4.3,0ZM75.63,287.57a2.15,2.15 0 1,0 4.3,0a2.15,2.15 0 1,0 -4.3,0ZM76.66,286.91a2.15,2.15 0 1,0 4.3,0a2.15,2.15 0 1,0 -4.3,0ZM77.69,286.22a2.15,2.15 0 1,0 4.3,0a2.15,2.15 0 1,0 -4.3,0ZM78.72,285.50a2.15,2.15 0 1,0 4.3,0a2.15,2.15 0 1,0 -4.3,0ZM79.75,284.74a2.15,2.15 0 1,0 4.3,0a2.15,2.15 0 1,0 -4.3,0ZM80.78,283.95a2.15,2.15 0 1,0 4.3,0a2.15,2.15 0 1,0 -4.3,0ZM81.81,283.12a2.15,2.15 0 1,0 4.3,0a2.15,2.15 0 1,0 -4.3,0ZM82.84,282.25a2.15,2.15 0 1,0 4.3,0a2.15,2.15 0 1,0 -4.3,0ZM83.87,281.34a2.15,2.15 0 1,0 4.3,0a2.15,2.15 0 1,0 -4.3,0ZM84.90,280.38a2.15,2.15 0 1,0 4.3,0a2.15,2.15 0 1,0 -4.3,0ZM85.93,279.37a2.15,2.15 0 1,0 4.3,0a2.15,2.15 0 1,0 -4.3,0ZM86.96,278.32a2.15,2.15 0 1,0 4.3,0a2.15,2.15 0 1,0 -4.3,0ZM87.99,277.21a2.15,2.15 0 1,0 4.3,0a2.15,2.15 0 1,0 -4.3,0ZM89.02,276.04a2.15,2.15 0 1,0 4.3,0a2.15,2.15 0 1,0 -4.3,0ZM90.05,274.81a2.15,2.15 0 1,0 4.3,0a2.15,2.15 0 1,0 -4.3,0ZM91.08,273.51a2.15,2.15 0 1,0 4.3,0a2.15,2.15 0 1,0 -4.3,0ZM92.11,272.14a2.15,2.15 0 1,0 4.3,0a2.15,2.15 0 1,0 -4.3,0ZM93.14,270.70a2.15,2.15 0 1,0 4.3,0a2.15,2.15 0 1,0 -4.3,0ZM94.17,269.18a2.15,2.15 0 1,0 4.3,0a2.15,2.15 0 1,0 -4.3,0ZM95.20,267.57a2.15,2.15 0 1,0 4.3,0a2.15,2.15 0 1,0 -4.3,0ZM96.23,265.87a2.15,2.15 0 1,0 4.3,0a2.15,2.15 0 1,0 -4.3,0ZM97.26,264.08a2.15,2.15 0 1,0 4.3,0a2.15,2.15 0 1,0 -4.3,0ZM98.29,262.19a2.15,2.15 0 1,0 4.3,0a2.15,2.15 0 1,0 -4.3,0ZM99.32,260.18a2.15,2.15 0 1,0 4.3,0a2.15,2.15 0 1,0 -4.3,0ZM100.35,258.06a2.15,2.15 0 1,0 4.3,0a2.15,2.15 0 1,0 -4.3,0ZM101.38,255.82a2.15,2.15 0 1,0 4.3,0a2.15,2.15 0 1,0 -4.3,0ZM102.41,253.46a2.15,2.15 0 1,0 4.3,0a2.15,2.15 0 1,0 -4.3,0ZM103.44,250.96a2.15,2.15 0 1,0 4.3,0a2.15,2.15 0 1,0 -4.3,0ZM104.47,248.33a2.15,2.15 0 1,0 4.3,0a2.15,2.15 0 1,0 -4.3,0ZM105.50,245.56a2.15,2.15 0 1,0 4.3,0a2.15,2.15 0 1,0 -4.3,0ZM106.53,242.64a2.15,2.15 0 1,0 4.3,0a2.15,2.15 0 1,0 -4.3,0ZM107.56,239.58a2.15,2.15 0 1,0 4.3,0a2.15,2.15 0 1,0 -4.3,0ZM108.59,236.38a2.15,2.15 0 1,0 4.3,0a2.15,2.15 0 1,0 -4.3,0ZM109.62,233.04a2.15,2.15 0 1,0 4.3,0a2.15,2.15 0 1,0 -4.3,0ZM110.65,229.56a2.15,2.15 0 1,0 4.3,0a2.15,2.15 0 1,0 -4.3,0ZM111.68,225.95a2.15,2.15 0 1,0 4.3,0a2.15,2.15 0 1,0 -4.3,0ZM112.71,222.23a2.15,2.15 0 1,0 4.3,0a2.15,2.15 0 1,0 -4.3,0ZM113.74,218.41a2.15,2.15 0 1,0 4.3,0a2.15,2.15 0 1,0 -4.3,0ZM114.77,214.51a2.15,2.15 0 1,0 4.3,0a2.15,2.15 0 1,0 -4.3,0ZM115.80,210.55a2.15,2.15 0 1,0 4.3,0a2.15,2.15 0 1,0 -4.3,0ZM116.83,206.56a2.15,2.15 0 1,0 4.3,0a2.15,2.15 0 1,0 -4.3,0ZM117.86,202.58a2.15,2.15 0 1,0 4.3,0a2.15,2.15 0 1,0 -4.3,0ZM118.89,198.62a2.15,2.15 0 1,0 4.3,0a2.15,2.15 0 1,0 -4.3,0ZM119.92,194.74a2.15,2.15 0 1,0 4.3,0a2.15,2.15 0 1,0 -4.3,0ZM120.95,190.97a2.15,2.15 0 1,0 4.3,0a2.15,2.15 0 1,0 -4.3,0ZM121.98,187.35a2.15,2.15 0 1,0 4.3,0a2.15,2.15 0 1,0 -4.3,0ZM123.01,183.91a2.15,2.15 0 1,0 4.3,0a2.15,2.15 0 1,0 -4.3,0ZM124.04,180.71a2.15,2.15 0 1,0 4.3,0a2.15,2.15 0 1,0 -4.3,0ZM125.07,180.62a2.15,2.15 0 1,0 4.3,0a2.15,2.15 0 1,0 -4.3,0ZM126.10,180.62a2.15,2.15 0 1,0 4.3,0a2.15,2.15 0 1,0 -4.3,0ZM127.13,180.62a2.15,2.15 0 1,0 4.3,0a2.15,2.15 0 1,0 -4.3,0ZM128.16,180.62a2.15,2.15 0 1,0 4.3,0a2.15,2.15 0 1,0 -4.3,0ZM129.19,180.62a2.15,2.15 0 1,0 4.3,0a2.15,2.15 0 1,0 -4.3,0ZM130.22,180.62a2.15,2.15 0 1,0 4.3,0a2.15,2.15 0 1,0 -4.3,0ZM131.25,180.62a2.15,2.15 0 1,0 4.3,0a2.15,2.15 0 1,0 -4.3,0ZM132.28,180.62a2.15,2.15 0 1,0 4.3,0a2.15,2.15 0 1,0 -4.3,0ZM133.31,180.62a2.15,2.15 0 1,0 4.3,0a2.15,2.15 0 1,0 -4.3,0ZM134.34,180.62a2.15,2.15 0 1,0 4.3,0a2.15,2.15 0 1,0 -4.3,0ZM135.37,180.62a2.15,2.15 0 1,0 4.3,0a2.15,2.15 0 1,0 -4.3,0ZM136.40,180.62a2.15,2.15 0 1,0 4.3,0a2.15,2.15 0 1,0 -4.3,0ZM137.43,180.62a2.15,2.15 0 1,0 4.3,0a2.15,2.15 0 1,0 -4.3,0ZM138.46,180.62a2.15,2.15 0 1,0 4.3,0a2.15,2.15 0 1,0 -4.3,0ZM139.49,180.62a2.15,2.15 0 1,0 4.3,0a2.15,2.15 0 1,0 -4.3,0ZM140.52,180.62a2.15,2.15 0 1,0 4.3,0a2.15,2.15 0 1,0 -4.3,0ZM141.55,182.82a2.15,2.15 0 1,0 4.3,0a2.15,2.15 0 1,0 -4.3,0ZM142.58,186.18a2.15,2.15 0 1,0 4.3,0a2.15,2.15 0 1,0 -4.3,0ZM143.61,189.74a2.15,2.15 0 1,0 4.3,0a2.15,2.15 0 1,0 -4.3,0ZM144.64,193.47a2.15,2.15 0 1,0 4.3,0a2.15,2.15 0 1,0 -4.3,0ZM145.67,197.32a2.15,2.15 0 1,0 4.3,0a2.15,2.15 0 1,0 -4.3,0ZM146.70,201.25a2.15,2.15 0 1,0 4.3,0a2.15,2.15 0 1,0 -4.3,0ZM147.73,205.23a2.15,2.15 0 1,0 4.3,0a2.15,2.15 0 1,0 -4.3,0ZM148.76,209.22a2.15,2.15 0 1,0 4.3,0a2.15,2.15 0 1,0 -4.3,0ZM149.79,213.19a2.15,2.15 0 1,0 4.3,0a2.15,2.15 0 1,0 -4.3,0ZM150.82,217.12a2.15,2.15 0 1,0 4.3,0a2.15,2.15 0 1,0 -4.3,0ZM151.85,220.97a2.15,2.15 0 1,0 4.3,0a2.15,2.15 0 1,0 -4.3,0ZM152.88,224.72a2.15,2.15 0 1,0 4.3,0a2.15,2.15 0 1,0 -4.3,0ZM153.91,228.37a2.15,2.15 0 1,0 4.3,0a2.15,2.15 0 1,0 -4.3,0ZM154.94,231.89a2.15,2.15 0 1,0 4.3,0a2.15,2.15 0 1,0 -4.3,0ZM155.97,235.28a2.15,2.15 0 1,0 4.3,0a2.15,2.15 0 1,0 -4.3,0ZM157.00,238.53a2.15,2.15 0 1,0 4.3,0a2.15,2.15 0 1,0 -4.3,0ZM158.03,241.64a2.15,2.15 0 1,0 4.3,0a2.15,2.15 0 1,0 -4.3,0ZM159.06,244.60a2.15,2.15 0 1,0 4.3,0a2.15,2.15 0 1,0 -4.3,0ZM160.09,247.42a2.15,2.15 0 1,0 4.3,0a2.15,2.15 0 1,0 -4.3,0ZM161.12,250.10a2.15,2.15 0 1,0 4.3,0a2.15,2.15 0 1,0 -4.3,0ZM162.15,252.64a2.15,2.15 0 1,0 4.3,0a2.15,2.15 0 1,0 -4.3,0ZM163.18,255.05a2.15,2.15 0 1,0 4.3,0a2.15,2.15 0 1,0 -4.3,0ZM164.21,257.33a2.15,2.15 0 1,0 4.3,0a2.15,2.15 0 1,0 -4.3,0ZM165.24,259.49a2.15,2.15 0 1,0 4.3,0a2.15,2.15 0 1,0 -4.3,0ZM166.27,261.53a2.15,2.15 0 1,0 4.3,0a2.15,2.15 0 1,0 -4.3,0ZM167.30,263.46a2.15,2.15 0 1,0 4.3,0a2.15,2.15 0 1,0 -4.3,0ZM168.33,265.29a2.15,2.15 0 1,0 4.3,0a2.15,2.15 0 1,0 -4.3,0ZM169.36,267.02a2.15,2.15 0 1,0 4.3,0a2.15,2.15 0 1,0 -4.3,0ZM170.39,268.65a2.15,2.15 0 1,0 4.3,0a2.15,2.15 0 1,0 -4.3,0ZM171.42,270.20a2.15,2.15 0 1,0 4.3,0a2.15,2.15 0 1,0 -4.3,0ZM172.45,271.67a2.15,2.15 0 1,0 4.3,0a2.15,2.15 0 1,0 -4.3,0ZM173.48,273.06a2.15,2.15 0 1,0 4.3,0a2.15,2.15 0 1,0 -4.3,0ZM174.51,274.38a2.15,2.15 0 1,0 4.3,0a2.15,2.15 0 1,0 -4.3,0ZM175.54,275.63a2.15,2.15 0 1,0 4.3,0a2.15,2.15 0 1,0 -4.3,0ZM176.57,276.82a2.15,2.15 0 1,0 4.3,0a2.15,2.15 0 1,0 -4.3,0ZM177.60,277.95a2.15,2.15 0 1,0 4.3,0a2.15,2.15 0 1,0 -4.3,0ZM178.63,279.03a2.15,2.15 0 1,0 4.3,0a2.15,2.15 0 1,0 -4.3,0ZM179.66,280.05a2.15,2.15 0 1,0 4.3,0a2.15,2.15 0 1,0 -4.3,0ZM180.69,281.02a2.15,2.15 0 1,0 4.3,0a2.15,2.15 0 1,0 -4.3,0ZM181.72,281.95a2.15,2.15 0 1,0 4.3,0a2.15,2.15 0 1,0 -4.3,0ZM182.75,282.83a2.15,2.15 0 1,0 4.3,0a2.15,2.15 0 1,0 -4.3,0ZM183.78,283.68a2.15,2.15 0 1,0 4.3,0a2.15,2.15 0 1,0 -4.3,0ZM184.81,284.48a2.15,2.15 0 1,0 4.3,0a2.15,2.15 0 1,0 -4.3,0ZM185.84,285.25a2.15,2.15 0 1,0 4.3,0a2.15,2.15 0 1,0 -4.3,0ZM186.87,285.98a2.15,2.15 0 1,0 4.3,0a2.15,2.15 0 1,0 -4.3,0ZM187.90,286.69a2.15,2.15 0 1,0 4.3,0a2.15,2.15 0 1,0 -4.3,0ZM188.93,287.36a2.15,2.15 0 1,0 4.3,0a2.15,2.15 0 1,0 -4.3,0ZM189.96,288.00a2.15,2.15 0 1,0 4.3,0a2.15,2.15 0 1,0 -4.3,0ZM190.99,288.61a2.15,2.15 0 1,0 4.3,0a2.15,2.15 0 1,0 -4.3,0ZM192.02,289.20a2.15,2.15 0 1,0 4.3,0a2.15,2.15 0 1,0 -4.3,0ZM193.05,289.77a2.15,2.15 0 1,0 4.3,0a2.15,2.15 0 1,0 -4.3,0ZM194.08,290.31a2.15,2.15 0 1,0 4.3,0a2.15,2.15 0 1,0 -4.3,0ZM195.11,290.83a2.15,2.15 0 1,0 4.3,0a2.15,2.15 0 1,0 -4.3,0ZM196.14,291.33a2.15,2.15 0 1,0 4.3,0a2.15,2.15 0 1,0 -4.3,0ZM197.17,291.80a2.15,2.15 0 1,0 4.3,0a2.15,2.15 0 1,0 -4.3,0ZM198.20,292.26a2.15,2.15 0 1,0 4.3,0a2.15,2.15 0 1,0 -4.3,0ZM199.23,292.70a2.15,2.15 0 1,0 4.3,0a2.15,2.15 0 1,0 -4.3,0ZM200.26,293.13a2.15,2.15 0 1,0 4.3,0a2.15,2.15 0 1,0 -4.3,0ZM201.29,293.54a2.15,2.15 0 1,0 4.3,0a2.15,2.15 0 1,0 -4.3,0ZM202.32,293.93a2.15,2.15 0 1,0 4.3,0a2.15,2.15 0 1,0 -4.3,0ZM203.35,294.31a2.15,2.15 0 1,0 4.3,0a2.15,2.15 0 1,0 -4.3,0ZM204.38,294.67a2.15,2.15 0 1,0 4.3,0a2.15,2.15 0 1,0 -4.3,0ZM205.41,295.02a2.15,2.15 0 1,0 4.3,0a2.15,2.15 0 1,0 -4.3,0ZM206.44,295.36a2.15,2.15 0 1,0 4.3,0a2.15,2.15 0 1,0 -4.3,0ZM207.47,295.69a2.15,2.15 0 1,0 4.3,0a2.15,2.15 0 1,0 -4.3,0ZM208.50,296.00a2.15,2.15 0 1,0 4.3,0a2.15,2.15 0 1,0 -4.3,0ZM209.53,296.30a2.15,2.15 0 1,0 4.3,0a2.15,2.15 0 1,0 -4.3,0ZM210.56,296.60a2.15,2.15 0 1,0 4.3,0a2.15,2.15 0 1,0 -4.3,0ZM211.59,296.88a2.15,2.15 0 1,0 4.3,0a2.15,2.15 0 1,0 -4.3,0ZM212.62,297.15a2.15,2.15 0 1,0 4.3,0a2.15,2.15 0 1,0 -4.3,0ZM213.65,297.42a2.15,2.15 0 1,0 4.3,0a2.15,2.15 0 1,0 -4.3,0ZM214.68,297.67a2.15,2.15 0 1,0 4.3,0a2.15,2.15 0 1,0 -4.3,0ZM215.71,297.92a2.15,2.15 0 1,0 4.3,0a2.15,2.15 0 1,0 -4.3,0ZM216.74,298.16a2.15,2.15 0 1,0 4.3,0a2.15,2.15 0 1,0 -4.3,0ZM217.77,298.39a2.15,2.15 0 1,0 4.3,0a2.15,2.15 0 1,0 -4.3,0ZM218.80,298.61a2.15,2.15 0 1,0 4.3,0a2.15,2.15 0 1,0 -4.3,0ZM219.83,298.82a2.15,2.15 0 1,0 4.3,0a2.15,2.15 0 1,0 -4.3,0ZM220.86,299.03a2.15,2.15 0 1,0 4.3,0a2.15,2.15 0 1,0 -4.3,0ZM221.89,299.24a2.15,2.15 0 1,0 4.3,0a2.15,2.15 0 1,0 -4.3,0ZM222.92,299.43a2.15,2.15 0 1,0 4.3,0a2.15,2.15 0 1,0 -4.3,0ZM223.95,299.62a2.15,2.15 0 1,0 4.3,0a2.15,2.15 0 1,0 -4.3,0ZM224.98,299.81a2.15,2.15 0 1,0 4.3,0a2.15,2.15 0 1,0 -4.3,0ZM226.01,299.99a2.15,2.15 0 1,0 4.3,0a2.15,2.15 0 1,0 -4.3,0ZM227.04,300.16a2.15,2.15 0 1,0 4.3,0a2.15,2.15 0 1,0 -4.3,0ZM228.07,300.33a2.15,2.15 0 1,0 4.3,0a2.15,2.15 0 1,0 -4.3,0ZM229.10,300.49a2.15,2.15 0 1,0 4.3,0a2.15,2.15 0 1,0 -4.3,0ZM230.13,300.65a2.15,2.15 0 1,0 4.3,0a2.15,2.15 0 1,0 -4.3,0ZM231.16,300.80a2.15,2.15 0 1,0 4.3,0a2.15,2.15 0 1,0 -4.3,0ZM232.19,300.95a2.15,2.15 0 1,0 4.3,0a2.15,2.15 0 1,0 -4.3,0ZM233.22,301.10a2.15,2.15 0 1,0 4.3,0a2.15,2.15 0 1,0 -4.3,0ZM234.25,301.24a2.15,2.15 0 1,0 4.3,0a2.15,2.15 0 1,0 -4.3,0Z" fill="#e81414"/>
<polyline points="32.46,308.28 33.17,308.27 33.88,308.27 34.60,308.27 35.31,308.26 36.03,308.26 36.74,308.26 37.45,308.25 38.17,308.25 38.88,308.24 39.60,308.24 40.31,308.24 41.03,308.23 41.74,308.23 42.45,308.22 43.17,308.22 43.88,308.22 44.60,308.21 45.31,308.21 46.02,308.20 46.74,308.20 47.45,308.19 48.17,308.19 48.88,308.18 49.59,308.18 50.31,308.17 51.02,308.16 51.74,308.16 52.45,308.15 53.16,308.15 53.88,308.14 54.59,308.13 55.31,308.13 56.02,308.12 56.74,308.11 57.45,308.11 58.16,308.10 58.88,308.09 59.59,308.08 60.31,308.08 61.02,308.07 61.73,308.06 62.45,308.05 63.16,308.04 63.88,308.03 64.59,308.02 65.30,308.01 66.02,308.00 66.73,307.99 67.45,307.98 68.16,307.97 68.87,307.96 69.59,307.95 70.30,307.93 71.02,307.92 71.73,307.91 72.45,307.89 73.16,307.88 73.87,307.87 74.59,307.85 75.30,307.84 76.02,307.82 76.73,307.80 77.44,307.78 78.16,307.77 78.87,307.75 79.59,307.73 80.30,307.71 81.01,307.69 81.73,307.66 82.44,307.64 83.16,307.62 83.87,307.59 84.58,307.57 85.30,307.54 86.01,307.51 86.73,307.48 87.44,307.45 88.16,307.42 88.87,307.39 89.58,307.35 90.30,307.31 91.01,307.27 91.73,307.23 92.44,307.19 93.15,307.15 93.87,307.10 94.58,307.05 95.30,307.00 96.01,306.94 96.72,306.88 97.44,306.82 98.15,306.75 98.87,306.69 99.58,306.61 100.29,306.53 101.01,306.45 101.72,306.36 102.44,306.27 103.15,306.17 103.87,306.06 104.58,305.94 105.29,305.82 106.01,305.69 106.72,305.54 107.44,305.39 108.15,305.22 108.86,305.04 109.58,304.85 110.29,304.64 111.01,304.41 111.72,304.16 112.43,303.88 113.15,303.58 113.86,303.25 114.58,302.89 115.29,302.48 116.00,302.04 116.72,301.54 117.43,300.98 117.43,300.98 117.61,300.83 117.78,300.69 117.95,300.53 118.12,300.37 118.30,300.21 118.47,300.05 118.64,299.87 118.81,299.70 118.99,299.51" fill="none" stroke="#3535dd" stroke-width="3.4" stroke-linejoin="round"/><polyline points="150.21,299.51 150.39,299.70 150.56,299.87 150.73,300.05 150.90,300.21 151.08,300.37 151.25,300.53 151.42,300.69 151.59,300.83 151.77,300.98 151.77,300.98 152.48,301.54 153.20,302.04 153.91,302.48 154.62,302.89 155.34,303.25 156.05,303.58 156.77,303.88 157.48,304.16 158.19,304.41 158.91,304.64 159.62,304.85 160.34,305.04 161.05,305.22 161.76,305.39 162.48,305.54 163.19,305.69 163.91,305.82 164.62,305.94 165.33,306.06 166.05,306.17 166.76,306.27 167.48,306.36 168.19,306.45 168.91,306.53 169.62,306.61 170.33,306.69 171.05,306.75 171.76,306.82 172.48,306.88 173.19,306.94 173.90,307.00 174.62,307.05 175.33,307.10 176.05,307.15 176.76,307.19 177.47,307.23 178.19,307.27 178.90,307.31 179.62,307.35 180.33,307.39 181.04,307.42 181.76,307.45 182.47,307.48 183.19,307.51 183.90,307.54 184.62,307.57 185.33,307.59 186.04,307.62 186.76,307.64 187.47,307.66 188.19,307.69 188.90,307.71 189.61,307.73 190.33,307.75 191.04,307.77 191.76,307.78 192.47,307.80 193.18,307.82 193.90,307.84 194.61,307.85 195.33,307.87 196.04,307.88 196.75,307.89 197.47,307.91 198.18,307.92 198.90,307.93 199.61,307.95 200.33,307.96 201.04,307.97 201.75,307.98 202.47,307.99 203.18,308.00 203.90,308.01 204.61,308.02 205.32,308.03 206.04,308.04 206.75,308.05 207.47,308.06 208.18,308.07 208.89,308.08 209.61,308.08 210.32,308.09 211.04,308.10 211.75,308.11 212.46,308.11 213.18,308.12 213.89,308.13 214.61,308.13 215.32,308.14 216.04,308.15 216.75,308.15 217.46,308.16 218.18,308.16 218.89,308.17 219.61,308.18 220.32,308.18 221.03,308.19 221.75,308.19 222.46,308.20 223.18,308.20 223.89,308.21 224.60,308.21 225.32,308.22 226.03,308.22 226.75,308.22 227.46,308.23 228.17,308.23 228.89,308.24 229.60,308.24 230.32,308.24 231.03,308.25 231.75,308.25 232.46,308.26 233.17,308.26 233.89,308.26 234.60,308.27 235.32,308.27 236.03,308.27 236.74,308.28" fill="none" stroke="#3535dd" stroke-width="3.4" stroke-linejoin="round"/>
<polyline points="32.46,306.71 33.17,306.69 33.88,306.66 34.60,306.64 35.31,306.61 36.03,306.58 36.74,306.56 37.45,306.53 38.17,306.50 38.88,306.47 39.60,306.44 40.31,306.41 41.03,306.38 41.74,306.35 42.45,306.31 43.17,306.28 43.88,306.24 44.60,306.21 45.31,306.17 46.02,306.14 46.74,306.10 47.45,306.06 48.17,306.02 48.88,305.98 49.59,305.94 50.31,305.89 51.02,305.85 51.74,305.81 52.45,305.76 53.16,305.71 53.88,305.66 54.59,305.61 55.31,305.56 56.02,305.51 56.74,305.46 57.45,305.40 58.16,305.34 58.88,305.29 59.59,305.23 60.31,305.16 61.02,305.10 61.73,305.03 62.45,304.97 63.16,304.90 63.88,304.83 64.59,304.75 65.30,304.68 66.02,304.60 66.73,304.52 67.45,304.44 68.16,304.35 68.87,304.27 69.59,304.17 70.30,304.08 71.02,303.98 71.73,303.88 72.45,303.78 73.16,303.68 73.87,303.57 74.59,303.45 75.30,303.33 76.02,303.21 76.73,303.09 77.44,302.95 78.16,302.82 78.87,302.68 79.59,302.53 80.30,302.38 81.01,302.23 81.73,302.06 82.44,301.89 83.16,301.72 83.87,301.54 84.58,301.35 85.30,301.15 86.01,300.94 86.73,300.73 87.44,300.50 88.16,300.27 88.87,300.03 89.58,299.77 90.30,299.51 91.01,299.23 91.73,298.94 92.44,298.64 93.15,298.32 93.87,297.99 94.58,297.64 95.30,297.27 96.01,296.89 96.72,296.49 97.44,296.06 98.15,295.62 98.87,295.15 99.58,294.65 100.29,294.13 101.01,293.58 101.72,293.00 102.44,292.38 103.15,291.73 103.87,291.04 104.58,290.31 105.29,289.54 106.01,288.72 106.72,287.84 107.44,286.91 108.15,285.92 108.86,284.87 109.58,283.75 110.29,282.55 111.01,281.27 111.72,279.90 112.43,278.43 113.15,276.86 113.86,275.18 114.58,273.37 115.29,271.44 116.00,269.35 116.72,267.12 117.43,264.72 117.43,264.72 117.61,264.11 117.78,263.49 117.95,262.86 118.12,262.22 118.30,261.57 118.47,260.91 118.64,260.24 118.81,259.55 118.99,258.85 119.16,258.14 119.33,257.42 119.50,256.68 119.68,255.94 119.85,255.18 120.02,254.40 120.19,253.62 120.37,252.82 120.54,252.00 120.71,251.17 120.88,250.33 121.06,249.48 121.23,248.61 121.40,247.72 121.57,246.82 121.75,245.91 121.92,244.98 122.09,244.04 122.26,243.08 122.44,242.11 122.61,241.12 122.78,240.12 122.95,239.10 123.13,238.07 123.30,237.02 123.47,235.95 123.64,234.88 123.82,233.78 123.99,232.67 124.16,231.55 124.33,230.41 124.51,229.26 124.68,228.10 124.85,226.92 125.02,225.72 125.20,224.52 125.37,223.30 125.54,222.07 125.71,220.82 125.89,219.57 126.06,218.30 126.23,217.03 126.40,215.74 126.58,214.45 126.75,213.15 126.92,211.84 127.09,210.52 127.27,209.20 127.44,207.88 127.61,206.55 127.78,205.22 127.96,203.90 128.13,202.57 128.30,201.24 128.48,199.92 128.65,198.60 128.82,197.29 128.99,195.99 129.17,194.69 129.34,193.41 129.51,192.14 129.68,190.89 129.86,189.66 130.03,188.44 130.20,187.25 130.37,186.08 130.55,184.93 130.72,183.81 130.89,182.73 131.06,181.67 131.24,180.65 131.41,179.66 131.58,178.71 131.75,177.80 131.93,176.93 132.10,176.11 132.27,175.33 132.44,174.60 132.62,173.91 132.79,173.28 132.96,172.70 133.13,172.18 133.31,171.71 133.48,171.29 133.65,170.94 133.82,170.64 134.00,170.40 134.17,170.21 134.34,170.09 134.51,170.03 134.69,170.03 134.86,170.09 135.03,170.21 135.20,170.40 135.38,170.64 135.55,170.94 135.72,171.29 135.89,171.71 136.07,172.18 136.24,172.70 136.41,173.28 136.58,173.91 136.76,174.60 136.93,175.33 137.10,176.11 137.27,176.93 137.45,177.80 137.62,178.71 137.79,179.66 137.96,180.65 138.14,181.67 138.31,182.73 138.48,183.81 138.65,184.93 138.83,186.08 139.00,187.25 139.17,188.44 139.34,189.66 139.52,190.89 139.69,192.14 139.86,193.41 140.03,194.69 140.21,195.99 140.38,197.29 140.55,198.60 140.72,199.92 140.90,201.24 141.07,202.57 141.24,203.90 141.42,205.22 141.59,206.55 141.76,207.88 141.93,209.20 142.11,210.52 142.28,211.84 142.45,213.15 142.62,214.45 142.80,215.74 142.97,217.03 143.14,218.30 143.31,219.57 143.49,220.82 143.66,222.07 143.83,223.30 144.00,224.52 144.18,225.72 144.35,226.92 144.52,228.10 144.69,229.26 144.87,230.41 145.04,231.55 145.21,232.67 145.38,233.78 145.56,234.88 145.73,235.95 145.90,237.02 146.07,238.07 146.25,239.10 146.42,240.12 146.59,241.12 146.76,242.11 146.94,243.08 147.11,244.04 147.28,244.98 147.45,245.91 147.63,246.82 147.80,247.72 147.97,248.61 148.14,249.48 148.32,250.33 148.49,251.17 148.66,252.00 148.83,252.82 149.01,253.62 149.18,254.40 149.35,255.18 149.52,255.94 149.70,256.68 149.87,257.42 150.04,258.14 150.21,258.85 150.39,259.55 150.56,260.24 150.73,260.91 150.90,261.57 151.08,262.22 151.25,262.86 151.42,263.49 151.59,264.11 151.77,264.72 151.77,264.72 152.48,267.12 153.20,269.35 153.91,271.44 154.62,273.37 155.34,275.18 156.05,276.86 156.77,278.43 157.48,279.90 158.19,281.27 158.91,282.55 159.62,283.75 160.34,284.87 161.05,285.92 161.76,286.91 162.48,287.84 163.19,288.72 163.91,289.54 164.62,290.31 165.33,291.04 166.05,291.73 166.76,292.38 167.48,293.00 168.19,293.58 168.91,294.13 169.62,294.65 170.33,295.15 171.05,295.62 171.76,296.06 172.48,296.49 173.19,296.89 173.90,297.27 174.62,297.64 175.33,297.99 176.05,298.32 176.76,298.64 177.47,298.94 178.19,299.23 178.90,299.51 179.62,299.77 180.33,300.03 181.04,300.27 181.76,300.50 182.47,300.73 183.19,300.94 183.90,301.15 184.62,301.35 185.33,301.54 186.04,301.72 186.76,301.89 187.47,302.06 188.19,302.23 188.90,302.38 189.61,302.53 190.33,302.68 191.04,302.82 191.76,302.95 192.47,303.09 193.18,303.21 193.90,303.33 194.61,303.45 195.33,303.57 196.04,303.68 196.75,303.78 197.47,303.88 198.18,303.98 198.90,304.08 199.61,304.17 200.33,304.27 201.04,304.35 201.75,304.44 202.47,304.52 203.18,304.60 203.90,304.68 204.61,304.75 205.32,304.83 206.04,304.90 206.75,304.97 207.47,305.03 208.18,305.10 208.89,305.16 209.61,305.23 210.32,305.29 211.04,305.34 211.75,305.40 212.46,305.46 213.18,305.51 213.89,305.56 214.61,305.61 215.32,305.66 216.04,305.71 216.75,305.76 217.46,305.81 218.18,305.85 218.89,305.89 219.61,305.94 220.32,305.98 221.03,306.02 221.75,306.06 222.46,306.10 223.18,306.14 223.89,306.17 224.60,306.21 225.32,306.24 226.03,306.28 226.75,306.31 227.46,306.35 228.17,306.38 228.89,306.41 229.60,306.44 230.32,306.47 231.03,306.50 231.75,306.53 232.46,306.56 233.17,306.58 233.89,306.61 234.60,306.64 235.32,306.66 236.03,306.69 236.74,306.71" fill="none" stroke="#22dd22" stroke-width="0.8" stroke-linejoin="round"/>
<path d="M32.46,304.07L34.76,308.67L30.16,308.67ZM33.31,304.04L35.61,308.64L31.01,308.64ZM34.17,304.01L36.47,308.61L31.87,308.61ZM35.03,303.98L37.33,308.58L32.73,308.58ZM35.89,303.95L38.19,308.55L33.59,308.55ZM36.75,303.91L39.05,308.51L34.45,308.51ZM37.61,303.88L39.91,308.48L35.31,308.48ZM38.46,303.84L40.76,308.44L36.16,308.44ZM39.32,303.81L41.62,308.41L37.02,308.41ZM40.18,303.77L42.48,308.37L37.88,308.37ZM41.04,303.73L43.34,308.33L38.74,308.33ZM41.90,303.69L44.20,308.29L39.60,308.29ZM42.76,303.65L45.06,308.25L40.46,308.25ZM43.61,303.61L45.91,308.21L41.31,308.21ZM44.47,303.57L46.77,308.17L42.17,308.17ZM45.33,303.53L47.63,308.13L43.03,308.13ZM46.19,303.48L48.49,308.08L43.89,308.08ZM47.05,303.44L49.35,308.04L44.75,308.04ZM47.91,303.39L50.21,307.99L45.61,307.99ZM48.77,303.34L51.06,307.94L46.47,307.94ZM49.62,303.29L51.92,307.89L47.32,307.89ZM50.48,303.24L52.78,307.84L48.18,307.84ZM51.34,303.19L53.64,307.79L49.04,307.79ZM52.20,303.13L54.50,307.73L49.90,307.73ZM53.06,303.07L55.36,307.67L50.76,307.67ZM53.92,303.02L56.22,307.62L51.62,307.62ZM54.77,302.96L57.07,307.56L52.47,307.56ZM55.63,302.89L57.93,307.49L53.33,307.49ZM56.49,302.83L58.79,307.43L54.19,307.43ZM57.35,302.76L59.65,307.36L55.05,307.36ZM58.21,302.70L60.51,307.30L55.91,307.30ZM59.07,302.62L61.37,307.22L56.77,307.22ZM59.92,302.55L62.22,307.15L57.62,307.15ZM60.78,302.48L63.08,307.08L58.48,307.08ZM61.64,302.40L63.94,307.00L59.34,307.00ZM62.50,302.32L64.80,306.92L60.20,306.92ZM63.36,302.23L65.66,306.83L61.06,306.83ZM64.22,302.15L66.52,306.75L61.92,306.75ZM65.07,302.06L67.37,306.66L62.77,306.66ZM65.93,301.97L68.23,306.57L63.63,306.57ZM66.79,301.87L69.09,306.47L64.49,306.47ZM67.65,301.77L69.95,306.37L65.35,306.37ZM68.51,301.67L70.81,306.27L66.21,306.27ZM69.37,301.56L71.67,306.16L67.07,306.16ZM70.22,301.45L72.52,306.05L67.92,306.05ZM71.08,301.33L73.38,305.93L68.78,305.93ZM71.94,301.21L74.24,305.81L69.64,305.81ZM72.80,301.08L75.10,305.68L70.50,305.68ZM73.66,300.95L75.96,305.55L71.36,305.55ZM74.52,300.82L76.82,305.42L72.22,305.42ZM75.37,300.68L77.67,305.28L73.07,305.28ZM76.23,300.53L78.53,305.13L73.93,305.13ZM77.09,300.38L79.39,304.98L74.79,304.98ZM77.95,300.21L80.25,304.81L75.65,304.81ZM78.81,300.05L81.11,304.65L76.51,304.65ZM79.67,299.87L81.97,304.47L77.37,304.47ZM80.52,299.69L82.82,304.29L78.22,304.29ZM81.38,299.50L83.68,304.10L79.08,304.10ZM82.24,299.30L84.54,303.90L79.94,303.90ZM83.10,299.09L85.40,303.69L80.80,303.69ZM83.96,298.87L86.26,303.47L81.66,303.47ZM84.82,298.64L87.12,303.24L82.52,303.24ZM85.67,298.40L87.97,303.00L83.37,303.00ZM86.53,298.14L88.83,302.74L84.23,302.74ZM87.39,297.88L89.69,302.48L85.09,302.48ZM88.25,297.60L90.55,302.20L85.95,302.20ZM89.11,297.30L91.41,301.90L86.81,301.90ZM89.97,296.99L92.27,301.59L87.67,301.59ZM90.82,296.66L93.12,301.26L88.52,301.26ZM91.68,296.32L93.98,300.92L89.38,300.92ZM92.54,295.95L94.84,300.55L90.24,300.55ZM93.40,295.56L95.70,300.16L91.10,300.16ZM94.26,295.16L96.56,299.76L91.96,299.76ZM95.12,294.72L97.42,299.32L92.82,299.32ZM95.97,294.27L98.27,298.87L93.67,298.87ZM96.83,293.78L99.13,298.38L94.53,298.38ZM97.69,293.26L99.99,297.86L95.39,297.86ZM98.55,292.71L100.85,297.31L96.25,297.31ZM99.41,292.13L101.71,296.73L97.11,296.73ZM100.27,291.51L102.57,296.11L97.97,296.11ZM101.12,290.84L103.42,295.44L98.82,295.44ZM101.98,290.13L104.28,294.73L99.68,294.73ZM102.84,289.37L105.14,293.97L100.54,293.97ZM103.70,288.56L106.00,293.16L101.40,293.16ZM104.56,287.69L106.86,292.29L102.26,292.29ZM105.42,286.76L107.72,291.36L103.12,291.36ZM106.27,285.75L108.57,290.35L103.97,290.35ZM107.13,284.67L109.43,289.27L104.83,289.27ZM107.99,283.51L110.29,288.11L105.69,288.11ZM108.85,282.25L111.15,286.85L106.55,286.85ZM109.71,280.89L112.01,285.49L107.41,285.49ZM110.57,279.42L112.87,284.02L108.27,284.02ZM111.42,277.83L113.72,282.43L109.12,282.43ZM112.28,276.11L114.58,280.71L109.98,280.71ZM113.14,274.23L115.44,278.83L110.84,278.83ZM114.00,272.20L116.30,276.80L111.70,276.80ZM114.86,269.98L117.16,274.58L112.56,274.58ZM115.72,267.57L118.02,272.17L113.42,272.17ZM116.57,264.94L118.87,269.54L114.27,269.54ZM117.43,262.07L119.73,266.67L115.13,266.67ZM118.29,258.94L120.59,263.54L115.99,263.54ZM119.15,255.53L121.45,260.13L116.85,260.13ZM120.01,251.82L122.31,256.42L117.71,256.42ZM120.87,247.77L123.17,252.37L118.57,252.37ZM121.72,243.38L124.02,247.98L119.42,247.98ZM122.58,238.62L124.88,243.22L120.28,243.22ZM123.44,233.50L125.74,238.10L121.14,238.10ZM124.30,228.00L126.60,232.60L122.00,232.60ZM125.16,222.14L127.46,226.74L122.86,226.74ZM126.02,215.98L128.32,220.58L123.72,220.58ZM126.87,209.55L129.17,214.15L124.57,214.15ZM127.73,202.98L130.03,207.58L125.43,207.58ZM128.59,196.38L130.89,200.98L126.29,200.98ZM129.45,189.94L131.75,194.54L127.15,194.54ZM130.31,183.87L132.61,188.47L128.01,188.47ZM131.17,178.41L133.47,183.01L128.87,183.01ZM132.02,173.81L134.32,178.41L129.72,178.41ZM132.88,170.31L135.18,174.91L130.58,174.91ZM133.74,168.13L136.04,172.73L131.44,172.73ZM134.60,167.38L136.90,171.98L132.30,171.98ZM135.46,168.13L137.76,172.73L133.16,172.73ZM136.32,170.31L138.62,174.91L134.02,174.91ZM137.18,173.81L139.48,178.41L134.88,178.41ZM138.03,178.41L140.33,183.01L135.73,183.01ZM138.89,183.87L141.19,188.47L136.59,188.47ZM139.75,189.94L142.05,194.54L137.45,194.54ZM140.61,196.38L142.91,200.98L138.31,200.98ZM141.47,202.98L143.77,207.58L139.17,207.58ZM142.33,209.55L144.63,214.15L140.03,214.15ZM143.18,215.98L145.48,220.58L140.88,220.58ZM144.04,222.14L146.34,226.74L141.74,226.74ZM144.90,228.00L147.20,232.60L142.60,232.60ZM145.76,233.50L148.06,238.10L143.46,238.10ZM146.62,238.62L148.92,243.22L144.32,243.22ZM147.48,243.38L149.78,247.98L145.18,247.98ZM148.33,247.77L150.63,252.37L146.03,252.37ZM149.19,251.82L151.49,256.42L146.89,256.42ZM150.05,255.53L152.35,260.13L147.75,260.13ZM150.91,258.94L153.21,263.54L148.61,263.54ZM151.77,262.07L154.07,266.67L149.47,266.67ZM152.63,264.94L154.93,269.54L150.33,269.54ZM153.48,267.57L155.78,272.17L151.18,272.17ZM154.34,269.98L156.64,274.58L152.04,274.58ZM155.20,272.20L157.50,276.80L152.90,276.80ZM156.06,274.23L158.36,278.83L153.76,278.83ZM156.92,276.11L159.22,280.71L154.62,280.71ZM157.78,277.83L160.08,282.43L155.48,282.43ZM158.63,279.42L160.93,284.02L156.33,284.02ZM159.49,280.89L161.79,285.49L157.19,285.49ZM160.35,282.25L162.65,286.85L158.05,286.85ZM161.21,283.51L163.51,288.11L158.91,288.11ZM162.07,284.67L164.37,289.27L159.77,289.27ZM162.93,285.75L165.23,290.35L160.63,290.35ZM163.78,286.76L166.08,291.36L161.48,291.36ZM164.64,287.69L166.94,292.29L162.34,292.29ZM165.50,288.56L167.80,293.16L163.20,293.16ZM166.36,289.37L168.66,293.97L164.06,293.97ZM167.22,290.13L169.52,294.73L164.92,294.73ZM168.08,290.84L170.38,295.44L165.78,295.44ZM168.93,291.51L171.23,296.11L166.63,296.11ZM169.79,292.13L172.09,296.73L167.49,296.73ZM170.65,292.71L172.95,297.31L168.35,297.31ZM171.51,293.26L173.81,297.86L169.21,297.86ZM172.37,293.78L174.67,298.38L170.07,298.38ZM173.23,294.27L175.53,298.87L170.93,298.87ZM174.08,294.72L176.38,299.32L171.78,299.32ZM174.94,295.16L177.24,299.76L172.64,299.76ZM175.80,295.56L178.10,300.16L173.50,300.16ZM176.66,295.95L178.96,300.55L174.36,300.55ZM177.52,296.32L179.82,300.92L175.22,300.92ZM178.38,296.66L180.68,301.26L176.08,301.26ZM179.23,296.99L181.53,301.59L176.93,301.59ZM180.09,297.30L182.39,301.90L177.79,301.90ZM180.95,297.60L183.25,302.20L178.65,302.20ZM181.81,297.88L184.11,302.48L179.51,302.48ZM182.67,298.14L184.97,302.74L180.37,302.74ZM183.53,298.40L185.83,303.00L181.23,303.00ZM184.38,298.64L186.68,303.24L182.08,303.24ZM185.24,298.87L187.54,303.47L182.94,303.47ZM186.10,299.09L188.40,303.69L183.80,303.69ZM186.96,299.30L189.26,303.90L184.66,303.90ZM187.82,299.50L190.12,304.10L185.52,304.10ZM188.68,299.69L190.98,304.29L186.38,304.29ZM189.53,299.87L191.83,304.47L187.23,304.47ZM190.39,300.05L192.69,304.65L188.09,304.65ZM191.25,300.21L193.55,304.81L188.95,304.81ZM192.11,300.38L194.41,304.98L189.81,304.98ZM192.97,300.53L195.27,305.13L190.67,305.13ZM193.83,300.68L196.13,305.28L191.53,305.28ZM194.68,300.82L196.98,305.42L192.38,305.42ZM195.54,300.95L197.84,305.55L193.24,305.55ZM196.40,301.08L198.70,305.68L194.10,305.68ZM197.26,301.21L199.56,305.81L194.96,305.81ZM198.12,301.33L200.42,305.93L195.82,305.93ZM198.98,301.45L201.28,306.05L196.68,306.05ZM199.83,301.56L202.13,306.16L197.53,306.16ZM200.69,301.67L202.99,306.27L198.39,306.27ZM201.55,301.77L203.85,306.37L199.25,306.37ZM202.41,301.87L204.71,306.47L200.11,306.47ZM203.27,301.97L205.57,306.57L200.97,306.57ZM204.13,302.06L206.43,306.66L201.83,306.66ZM204.98,302.15L207.28,306.75L202.68,306.75ZM205.84,302.23L208.14,306.83L203.54,306.83ZM206.70,302.32L209.00,306.92L204.40,306.92ZM207.56,302.40L209.86,307.00L205.26,307.00ZM208.42,302.48L210.72,307.08L206.12,307.08ZM209.28,302.55L211.58,307.15L206.98,307.15ZM210.13,302.62L212.43,307.22L207.83,307.22ZM210.99,302.70L213.29,307.30L208.69,307.30ZM211.85,302.76L214.15,307.36L209.55,307.36ZM212.71,302.83L215.01,307.43L210.41,307.43ZM213.57,302.89L215.87,307.49L211.27,307.49ZM214.43,302.96L216.73,307.56L212.13,307.56ZM215.28,303.02L217.58,307.62L212.98,307.62ZM216.14,303.07L218.44,307.67L213.84,307.67ZM217.00,303.13L219.30,307.73L214.70,307.73ZM217.86,303.19L220.16,307.79L215.56,307.79ZM218.72,303.24L221.02,307.84L216.42,307.84ZM219.58,303.29L221.88,307.89L217.28,307.89ZM220.44,303.34L222.74,307.94L218.13,307.94ZM221.29,303.39L223.59,307.99L218.99,307.99ZM222.15,303.44L224.45,308.04L219.85,308.04ZM223.01,303.48L225.31,308.08L220.71,308.08ZM223.87,303.53L226.17,308.13L221.57,308.13ZM224.73,303.57L227.03,308.17L222.43,308.17ZM225.59,303.61L227.89,308.21L223.29,308.21ZM226.44,303.65L228.74,308.25L224.14,308.25ZM227.30,303.69L229.60,308.29L225.00,308.29ZM228.16,303.73L230.46,308.33L225.86,308.33ZM229.02,303.77L231.32,308.37L226.72,308.37ZM229.88,303.81L232.18,308.41L227.58,308.41ZM230.74,303.84L233.04,308.44L228.44,308.44ZM231.59,303.88L233.89,308.48L229.29,308.48ZM232.45,303.91L234.75,308.51L230.15,308.51ZM233.31,303.95L235.61,308.55L231.01,308.55ZM234.17,303.98L236.47,308.58L231.87,308.58ZM235.03,304.01L237.33,308.61L232.73,308.61ZM235.89,304.04L238.19,308.64L233.59,308.64ZM236.74,304.07L239.04,308.67L234.44,308.67Z" fill="#22dd22"/>
<polyline points="119.16,299.33 119.33,299.13 119.50,298.93 119.68,298.73 119.85,298.51 120.02,298.29 120.19,298.07 120.37,297.83 120.54,297.59 120.71,297.34 120.88,297.08 121.06,296.82 121.23,296.54 121.40,296.26 121.57,295.96 121.75,295.65 121.92,295.34 122.09,295.01 122.26,294.67 122.44,294.32 122.61,293.95 122.78,293.57 122.95,293.18 123.13,292.77 123.30,292.34 123.47,291.90 123.64,291.44 123.82,290.96 123.99,290.46 124.16,289.95 124.33,289.41 124.51,288.85 124.68,288.26 124.85,287.65 125.02,287.02 125.20,286.36 125.37,285.66 125.54,284.94 125.71,284.19 125.89,283.40 126.06,282.57 126.23,281.71 126.40,280.81 126.58,279.87 126.75,278.88 126.92,277.84 127.09,276.76 127.27,275.62 127.44,274.43 127.61,273.18 127.78,271.86 127.96,270.49 128.13,269.04 128.30,267.53 128.48,265.94 128.65,264.27 128.82,262.52 128.99,260.68 129.17,258.75 129.34,256.73 129.51,254.60 129.68,252.38 129.86,250.05 130.03,247.62 130.20,245.08 130.37,242.42 130.55,239.66 130.72,236.78 130.89,233.79 131.06,230.70 131.24,227.50 131.41,224.22 131.58,220.85 131.75,217.41 131.93,213.92 132.10,210.39 132.27,206.85 132.44,203.33 132.62,199.86 132.79,196.46 132.96,193.19 133.13,190.08 133.31,187.16 133.48,184.49 133.65,182.11 133.82,180.05 134.00,178.36 134.17,177.06 134.34,176.18 134.51,175.73 134.69,175.73 134.86,176.18 135.03,177.06 135.20,178.36 135.38,180.05 135.55,182.11 135.72,184.49 135.89,187.16 136.07,190.08 136.24,193.19 136.41,196.46 136.58,199.86 136.76,203.33 136.93,206.85 137.10,210.39 137.27,213.92 137.45,217.41 137.62,220.85 137.79,224.22 137.96,227.50 138.14,230.70 138.31,233.79 138.48,236.78 138.65,239.66 138.83,242.42 139.00,245.08 139.17,247.62 139.34,250.05 139.52,252.38 139.69,254.60 139.86,256.73 140.03,258.75 140.21,260.68 140.38,262.52 140.55,264.27 140.72,265.94 140.90,267.53 141.07,269.04 141.24,270.49 141.42,271.86 141.59,273.18 141.76,274.43 141.93,275.62 142.11,276.76 142.28,277.84 142.45,278.88 142.62,279.87 142.80,280.81 142.97,281.71 143.14,282.57 143.31,283.40 143.49,284.19 143.66,284.94 143.83,285.66 144.00,286.36 144.18,287.02 144.35,287.65 144.52,288.26 144.69,288.85 144.87,289.41 145.04,289.95 145.21,290.46 145.38,290.96 145.56,291.44 145.73,291.90 145.90,292.34 146.07,292.77 146.25,293.18 146.42,293.57 146.59,293.95 146.76,294.32 146.94,294.67 147.11,295.01 147.28,295.34 147.45,295.65 147.63,295.96 147.80,296.26 147.97,296.54 148.14,296.82 148.32,297.08 148.49,297.34 148.66,297.59 148.83,297.83 149.01,298.07 149.18,298.29 149.35,298.51 149.52,298.73 149.70,298.93 149.87,299.13 150.04,299.33" fill="none" stroke="#3535dd" stroke-width="0.9" stroke-linejoin="round"/>
<path d="M106.56,303.62h3.2v3.2h-3.2ZM107.76,303.31h3.2v3.2h-3.2ZM108.97,302.95h3.2v3.2h-3.2ZM110.17,302.54h3.2v3.2h-3.2ZM111.37,302.06h3.2v3.2h-3.2ZM112.57,301.50h3.2v3.2h-3.2ZM113.77,300.83h3.2v3.2h-3.2ZM114.97,300.04h3.2v3.2h-3.2ZM116.18,299.09h3.2v3.2h-3.2ZM117.38,297.92h3.2v3.2h-3.2ZM118.58,296.49h3.2v3.2h-3.2ZM119.78,294.69h3.2v3.2h-3.2ZM120.98,292.40h3.2v3.2h-3.2ZM122.18,289.45h3.2v3.2h-3.2ZM123.39,285.56h3.2v3.2h-3.2ZM124.59,280.34h3.2v3.2h-3.2ZM125.79,273.18h3.2v3.2h-3.2ZM126.99,263.22h3.2v3.2h-3.2ZM128.19,249.30h3.2v3.2h-3.2ZM129.39,230.33h3.2v3.2h-3.2ZM130.60,206.77h3.2v3.2h-3.2ZM131.80,184.10h3.2v3.2h-3.2ZM133.00,174.08h3.2v3.2h-3.2ZM134.20,184.10h3.2v3.2h-3.2ZM135.40,206.77h3.2v3.2h-3.2ZM136.61,230.33h3.2v3.2h-3.2ZM137.81,249.30h3.2v3.2h-3.2ZM139.01,263.22h3.2v3.2h-3.2ZM140.21,273.18h3.2v3.2h-3.2ZM141.41,280.34h3.2v3.2h-3.2ZM142.61,285.56h3.2v3.2h-3.2ZM143.82,289.45h3.2v3.2h-3.2ZM145.02,292.40h3.2v3.2h-3.2ZM146.22,294.69h3.2v3.2h-3.2ZM147.42,296.49h3.2v3.2h-3.2ZM148.62,297.92h3.2v3.2h-3.2ZM149.82,299.09h3.2v3.2h-3.2ZM151.03,300.04h3.2v3.2h-3.2ZM152.23,300.83h3.2v3.2h-3.2ZM153.43,301.50h3.2v3.2h-3.2ZM154.63,302.06h3.2v3.2h-3.2ZM155.83,302.54h3.2v3.2h-3.2ZM157.03,302.95h3.2v3.2h-3.2ZM158.24,303.31h3.2v3.2h-3.2ZM159.44,303.62h3.2v3.2h-3.2Z" fill="none" stroke="#3535dd" stroke-width="0.7"/>
<polyline points="32.46,308.48 33.17,308.48 33.88,308.48 34.60,308.48 35.31,308.48 36.03,308.48 36.74,308.48 37.45,308.48 38.17,308.48 38.88,308.48 39.60,308.48 40.31,308.47 41.03,308.47 41.74,308.47 42.45,308.47 43.17,308.47 43.88,308.47 44.60,308.47 45.31,308.47 46.02,308.47 46.74,308.47 47.45,308.47 48.17,308.47 48.88,308.47 49.59,308.47 50.31,308.47 51.02,308.47 51.74,308.47 52.45,308.47 53.16,308.47 53.88,308.47 54.59,308.47 55.31,308.46 56.02,308.46 56.74,308.46 57.45,308.46 58.16,308.46 58.88,308.46 59.59,308.46 60.31,308.46 61.02,308.46 61.73,308.46 62.45,308.46 63.16,308.46 63.88,308.46 64.59,308.45 65.30,308.45 66.02,308.45 66.73,308.45 67.45,308.45 68.16,308.45 68.87,308.45 69.59,308.45 70.30,308.45 71.02,308.44 71.73,308.44 72.45,308.44 73.16,308.44 73.87,308.44 74.59,308.44 75.30,308.44 76.02,308.44 76.73,308.43 77.44,308.43 78.16,308.43 78.87,308.43 79.59,308.43 80.30,308.42 81.01,308.42 81.73,308.42 82.44,308.42 83.16,308.42 83.87,308.41 84.58,308.41 85.30,308.41 86.01,308.41 86.73,308.40 87.44,308.40 88.16,308.40 88.87,308.39 89.58,308.39 90.30,308.39 91.01,308.38 91.73,308.38 92.44,308.37 93.15,308.37 93.87,308.37 94.58,308.36 95.30,308.36 96.01,308.35 96.72,308.35 97.44,308.34 98.15,308.33 98.87,308.33 99.58,308.32 100.29,308.31 101.01,308.30 101.72,308.29 102.44,308.29 103.15,308.28 103.87,308.26 104.58,308.25 105.29,308.24 106.01,308.23 106.72,308.21 107.44,308.20 108.15,308.18 108.86,308.16 109.58,308.15 110.29,308.12 111.01,308.10 111.72,308.08 112.43,308.05 113.15,308.02 113.86,307.98 114.58,307.95 115.29,307.91 116.00,307.86 116.72,307.81 117.43,307.75 117.43,307.75 117.61,307.73 117.78,307.72 117.95,307.70 118.12,307.69 118.30,307.67 118.47,307.65 118.64,307.63 118.81,307.61 118.99,307.59 119.16,307.57 119.33,307.55 119.50,307.53 119.68,307.51 119.85,307.49 120.02,307.46 120.19,307.44 120.37,307.41 120.54,307.39 120.71,307.36 120.88,307.33 121.06,307.30 121.23,307.27 121.40,307.24 121.57,307.20 121.75,307.17 121.92,307.13 122.09,307.10 122.26,307.06 122.44,307.02 122.61,306.97 122.78,306.93 122.95,306.88 123.13,306.84 123.30,306.79 123.47,306.73 123.64,306.68 123.82,306.62 123.99,306.56 124.16,306.50 124.33,306.43 124.51,306.36 124.68,306.29 124.85,306.21 125.02,306.13 125.20,306.04 125.37,305.95 125.54,305.86 125.71,305.75 125.89,305.65 126.06,305.53 126.23,305.41 126.40,305.29 126.58,305.15 126.75,305.01 126.92,304.85 127.09,304.69 127.27,304.52 127.44,304.33 127.61,304.13 127.78,303.92 127.96,303.69 128.13,303.44 128.30,303.17 128.48,302.88 128.65,302.57 128.82,302.23 128.99,301.87 129.17,301.47 129.34,301.03" fill="none" stroke="#66eaf2" stroke-width="1.7" stroke-linejoin="round"/><polyline points="139.86,301.03 140.03,301.47 140.21,301.87 140.38,302.23 140.55,302.57 140.72,302.88 140.90,303.17 141.07,303.44 141.24,303.69 141.42,303.92 141.59,304.13 141.76,304.33 141.93,304.52 142.11,304.69 142.28,304.85 142.45,305.01 142.62,305.15 142.80,305.29 142.97,305.41 143.14,305.53 143.31,305.65 143.49,305.75 143.66,305.86 143.83,305.95 144.00,306.04 144.18,306.13 144.35,306.21 144.52,306.29 144.69,306.36 144.87,306.43 145.04,306.50 145.21,306.56 145.38,306.62 145.56,306.68 145.73,306.73 145.90,306.79 146.07,306.84 146.25,306.88 146.42,306.93 146.59,306.97 146.76,307.02 146.94,307.06 147.11,307.10 147.28,307.13 147.45,307.17 147.63,307.20 147.80,307.24 147.97,307.27 148.14,307.30 148.32,307.33 148.49,307.36 148.66,307.39 148.83,307.41 149.01,307.44 149.18,307.46 149.35,307.49 149.52,307.51 149.70,307.53 149.87,307.55 150.04,307.57 150.21,307.59 150.39,307.61 150.56,307.63 150.73,307.65 150.90,307.67 151.08,307.69 151.25,307.70 151.42,307.72 151.59,307.73 151.77,307.75 151.77,307.75 152.48,307.81 153.20,307.86 153.91,307.91 154.62,307.95 155.34,307.98 156.05,308.02 156.77,308.05 157.48,308.08 158.19,308.10 158.91,308.12 159.62,308.15 160.34,308.16 161.05,308.18 161.76,308.20 162.48,308.21 163.19,308.23 163.91,308.24 164.62,308.25 165.33,308.26 166.05,308.28 166.76,308.29 167.48,308.29 168.19,308.30 168.91,308.31 169.62,308.32 170.33,308.33 171.05,308.33 171.76,308.34 172.48,308.35 173.19,308.35 173.90,308.36 174.62,308.36 175.33,308.37 176.05,308.37 176.76,308.37 177.47,308.38 178.19,308.38 178.90,308.39 179.62,308.39 180.33,308.39 181.04,308.40 181.76,308.40 182.47,308.40 183.19,308.41 183.90,308.41 184.62,308.41 185.33,308.41 186.04,308.42 186.76,308.42 187.47,308.42 188.19,308.42 188.90,308.42 189.61,308.43 190.33,308.43 191.04,308.43 191.76,308.43 192.47,308.43 193.18,308.44 193.90,308.44 194.61,308.44 195.33,308.44 196.04,308.44 196.75,308.44 197.47,308.44 198.18,308.44 198.90,308.45 199.61,308.45 200.33,308.45 201.04,308.45 201.75,308.45 202.47,308.45 203.18,308.45 203.90,308.45 204.61,308.45 205.32,308.46 206.04,308.46 206.75,308.46 207.47,308.46 208.18,308.46 208.89,308.46 209.61,308.46 210.32,308.46 211.04,308.46 211.75,308.46 212.46,308.46 213.18,308.46 213.89,308.46 214.61,308.47 215.32,308.47 216.04,308.47 216.75,308.47 217.46,308.47 218.18,308.47 218.89,308.47 219.61,308.47 220.32,308.47 221.03,308.47 221.75,308.47 222.46,308.47 223.18,308.47 223.89,308.47 224.60,308.47 225.32,308.47 226.03,308.47 226.75,308.47 227.46,308.47 228.17,308.47 228.89,308.47 229.60,308.48 230.32,308.48 231.03,308.48 231.75,308.48 232.46,308.48 233.17,308.48 233.89,308.48 234.60,308.48 235.32,308.48 236.03,308.48 236.74,308.48" fill="none" stroke="#66eaf2" stroke-width="1.7" stroke-linejoin="round"/>
<polyline points="32.46,308.48 33.17,308.48 33.88,308.48 34.60,308.48 35.31,308.48 36.03,308.48 36.74,308.48 37.45,308.48 38.17,308.48 38.88,308.48 39.60,308.48 40.31,308.47 41.03,308.47 41.74,308.47 42.45,308.47 43.17,308.47 43.88,308.47 44.60,308.47 45.31,308.47 46.02,308.47 46.74,308.47 47.45,308.47 48.17,308.47 48.88,308.47 49.59,308.47 50.31,308.47 51.02,308.47 51.74,308.47 52.45,308.47 53.16,308.47 53.88,308.47 54.59,308.47 55.31,308.46 56.02,308.46 56.74,308.46 57.45,308.46 58.16,308.46 58.88,308.46 59.59,308.46 60.31,308.46 61.02,308.46 61.73,308.46 62.45,308.46 63.16,308.46 63.88,308.46 64.59,308.45 65.30,308.45 66.02,308.45 66.73,308.45 67.45,308.45 68.16,308.45 68.87,308.45 69.59,308.45 70.30,308.45 71.02,308.44 71.73,308.44 72.45,308.44 73.16,308.44 73.87,308.44 74.59,308.44 75.30,308.44 76.02,308.44 76.73,308.43 77.44,308.43 78.16,308.43 78.87,308.43 79.59,308.43 80.30,308.42 81.01,308.42 81.73,308.42 82.44,308.42 83.16,308.42 83.87,308.41 84.58,308.41 85.30,308.41 86.01,308.41 86.73,308.40 87.44,308.40 88.16,308.40 88.87,308.39 89.58,308.39 90.30,308.39 91.01,308.38 91.73,308.38 92.44,308.37 93.15,308.37 93.87,308.37 94.58,308.36 95.30,308.36 96.01,308.35 96.72,308.35 97.44,308.34 98.15,308.33 98.87,308.33 99.58,308.32 100.29,308.31 101.01,308.30 101.72,308.29 102.44,308.29 103.15,308.28 103.87,308.26 104.58,308.25 105.29,308.24 106.01,308.23 106.72,308.21 107.44,308.20 108.15,308.18 108.86,308.16 109.58,308.15 110.29,308.12 111.01,308.10 111.72,308.08 112.43,308.05 113.15,308.02 113.86,307.98 114.58,307.95 115.29,307.91 116.00,307.86 116.72,307.81 117.43,307.75 117.43,307.75 117.61,307.73 117.78,307.72 117.95,307.70 118.12,307.69 118.30,307.67 118.47,307.65 118.64,307.63 118.81,307.61 118.99,307.59 119.16,307.57 119.33,307.55 119.50,307.53 119.68,307.51 119.85,307.49 120.02,307.46 120.19,307.44 120.37,307.41 120.54,307.39 120.71,307.36 120.88,307.33 121.06,307.30 121.23,307.27 121.40,307.24 121.57,307.20 121.75,307.17 121.92,307.13 122.09,307.10 122.26,307.06 122.44,307.02 122.61,306.97 122.78,306.93 122.95,306.88 123.13,306.84 123.30,306.79 123.47,306.73 123.64,306.68 123.82,306.62 123.99,306.56 124.16,306.50 124.33,306.43 124.51,306.36 124.68,306.29 124.85,306.21 125.02,306.13 125.20,306.04 125.37,305.95 125.54,305.86 125.71,305.75 125.89,305.65 126.06,305.53 126.23,305.41 126.40,305.29 126.58,305.15 126.75,305.01 126.92,304.85 127.09,304.69 127.27,304.52 127.44,304.33 127.61,304.13 127.78,303.92 127.96,303.69 128.13,303.44 128.30,303.17 128.48,302.88 128.65,302.57 128.82,302.23 128.99,301.87 129.17,301.47 129.34,301.03 129.51,300.56 129.68,300.04 129.86,299.46 130.03,298.83 130.20,298.14 130.37,297.37 130.55,296.51 130.72,295.56 130.89,294.49 131.06,293.29 131.24,291.94 131.41,290.42 131.58,288.70 131.75,286.74 131.93,284.51 132.10,281.96 132.27,279.03 132.44,275.66 132.62,271.80 132.79,267.36 132.96,262.27 133.13,256.48 133.31,249.97 133.48,242.77 133.65,235.02 133.82,227.01 134.00,219.23 134.17,212.34 134.34,207.13 134.51,204.30 134.69,204.30 134.86,207.13 135.03,212.34 135.20,219.23 135.38,227.01 135.55,235.02 135.72,242.77 135.89,249.97 136.07,256.48 136.24,262.27 136.41,267.36 136.58,271.80 136.76,275.66 136.93,279.03 137.10,281.96 137.27,284.51 137.45,286.74 137.62,288.70 137.79,290.42 137.96,291.94 138.14,293.29 138.31,294.49 138.48,295.56 138.65,296.51 138.83,297.37 139.00,298.14 139.17,298.83 139.34,299.46 139.52,300.04 139.69,300.56 139.86,301.03 140.03,301.47 140.21,301.87 140.38,302.23 140.55,302.57 140.72,302.88 140.90,303.17 141.07,303.44 141.24,303.69 141.42,303.92 141.59,304.13 141.76,304.33 141.93,304.52 142.11,304.69 142.28,304.85 142.45,305.01 142.62,305.15 142.80,305.29 142.97,305.41 143.14,305.53 143.31,305.65 143.49,305.75 143.66,305.86 143.83,305.95 144.00,306.04 144.18,306.13 144.35,306.21 144.52,306.29 144.69,306.36 144.87,306.43 145.04,306.50 145.21,306.56 145.38,306.62 145.56,306.68 145.73,306.73 145.90,306.79 146.07,306.84 146.25,306.88 146.42,306.93 146.59,306.97 146.76,307.02 146.94,307.06 147.11,307.10 147.28,307.13 147.45,307.17 147.63,307.20 147.80,307.24 147.97,307.27 148.14,307.30 148.32,307.33 148.49,307.36 148.66,307.39 148.83,307.41 149.01,307.44 149.18,307.46 149.35,307.49 149.52,307.51 149.70,307.53 149.87,307.55 150.04,307.57 150.21,307.59 150.39,307.61 150.56,307.63 150.73,307.65 150.90,307.67 151.08,307.69 151.25,307.70 151.42,307.72 151.59,307.73 151.77,307.75 151.77,307.75 152.48,307.81 153.20,307.86 153.91,307.91 154.62,307.95 155.34,307.98 156.05,308.02 156.77,308.05 157.48,308.08 158.19,308.10 158.91,308.12 159.62,308.15 160.34,308.16 161.05,308.18 161.76,308.20 162.48,308.21 163.19,308.23 163.91,308.24 164.62,308.25 165.33,308.26 166.05,308.28 166.76,308.29 167.48,308.29 168.19,308.30 168.91,308.31 169.62,308.32 170.33,308.33 171.05,308.33 171.76,308.34 172.48,308.35 173.19,308.35 173.90,308.36 174.62,308.36 175.33,308.37 176.05,308.37 176.76,308.37 177.47,308.38 178.19,308.38 178.90,308.39 179.62,308.39 180.33,308.39 181.04,308.40 181.76,308.40 182.47,308.40 183.19,308.41 183.90,308.41 184.62,308.41 185.33,308.41 186.04,308.42 186.76,308.42 187.47,308.42 188.19,308.42 188.90,308.42 189.61,308.43 190.33,308.43 191.04,308.43 191.76,308.43 192.47,308.43 193.18,308.44 193.90,308.44 194.61,308.44 195.33,308.44 196.04,308.44 196.75,308.44 197.47,308.44 198.18,308.44 198.90,308.45 199.61,308.45 200.33,308.45 201.04,308.45 201.75,308.45 202.47,308.45 203.18,308.45 203.90,308.45 204.61,308.45 205.32,308.46 206.04,308.46 206.75,308.46 207.47,308.46 208.18,308.46 208.89,308.46 209.61,308.46 210.32,308.46 211.04,308.46 211.75,308.46 212.46,308.46 213.18,308.46 213.89,308.46 214.61,308.47 215.32,308.47 216.04,308.47 216.75,308.47 217.46,308.47 218.18,308.47 218.89,308.47 219.61,308.47 220.32,308.47 221.03,308.47 221.75,308.47 222.46,308.47 223.18,308.47 223.89,308.47 224.60,308.47 225.32,308.47 226.03,308.47 226.75,308.47 227.46,308.47 228.17,308.47 228.89,308.47 229.60,308.48 230.32,308.48 231.03,308.48 231.75,308.48 232.46,308.48 233.17,308.48 233.89,308.48 234.60,308.48 235.32,308.48 236.03,308.48 236.74,308.48" fill="none" stroke="#66eaf2" stroke-width="0.9" stroke-linejoin="round"/>
<path d="M124.69,305.45a1.5,1.5 0 1,0 3.0,0a1.5,1.5 0 1,0 -3.0,0ZM125.29,304.97a1.5,1.5 0 1,0 3.0,0a1.5,1.5 0 1,0 -3.0,0ZM125.89,304.39a1.5,1.5 0 1,0 3.0,0a1.5,1.5 0 1,0 -3.0,0ZM126.49,303.64a1.5,1.5 0 1,0 3.0,0a1.5,1.5 0 1,0 -3.0,0ZM127.09,302.68a1.5,1.5 0 1,0 3.0,0a1.5,1.5 0 1,0 -3.0,0ZM127.69,301.40a1.5,1.5 0 1,0 3.0,0a1.5,1.5 0 1,0 -3.0,0ZM128.29,299.68a1.5,1.5 0 1,0 3.0,0a1.5,1.5 0 1,0 -3.0,0ZM128.89,297.27a1.5,1.5 0 1,0 3.0,0a1.5,1.5 0 1,0 -3.0,0ZM129.49,293.78a1.5,1.5 0 1,0 3.0,0a1.5,1.5 0 1,0 -3.0,0ZM130.10,288.54a1.5,1.5 0 1,0 3.0,0a1.5,1.5 0 1,0 -3.0,0ZM130.70,280.34a1.5,1.5 0 1,0 3.0,0a1.5,1.5 0 1,0 -3.0,0ZM131.30,267.10a1.5,1.5 0 1,0 3.0,0a1.5,1.5 0 1,0 -3.0,0ZM131.90,246.19a1.5,1.5 0 1,0 3.0,0a1.5,1.5 0 1,0 -3.0,0ZM132.50,219.10a1.5,1.5 0 1,0 3.0,0a1.5,1.5 0 1,0 -3.0,0ZM133.10,203.94a1.5,1.5 0 1,0 3.0,0a1.5,1.5 0 1,0 -3.0,0ZM133.70,219.10a1.5,1.5 0 1,0 3.0,0a1.5,1.5 0 1,0 -3.0,0ZM134.30,246.19a1.5,1.5 0 1,0 3.0,0a1.5,1.5 0 1,0 -3.0,0ZM134.90,267.10a1.5,1.5 0 1,0 3.0,0a1.5,1.5 0 1,0 -3.0,0ZM135.50,280.34a1.5,1.5 0 1,0 3.0,0a1.5,1.5 0 1,0 -3.0,0ZM136.10,288.54a1.5,1.5 0 1,0 3.0,0a1.5,1.5 0 1,0 -3.0,0ZM136.71,293.78a1.5,1.5 0 1,0 3.0,0a1.5,1.5 0 1,0 -3.0,0ZM137.31,297.27a1.5,1.5 0 1,0 3.0,0a1.5,1.5 0 1,0 -3.0,0ZM137.91,299.68a1.5,1.5 0 1,0 3.0,0a1.5,1.5 0 1,0 -3.0,0ZM138.51,301.40a1.5,1.5 0 1,0 3.0,0a1.5,1.5 0 1,0 -3.0,0ZM139.11,302.68a1.5,1.5 0 1,0 3.0,0a1.5,1.5 0 1,0 -3.0,0ZM139.71,303.64a1.5,1.5 0 1,0 3.0,0a1.5,1.5 0 1,0 -3.0,0ZM140.31,304.39a1.5,1.5 0 1,0 3.0,0a1.5,1.5 0 1,0 -3.0,0ZM140.91,304.97a1.5,1.5 0 1,0 3.0,0a1.5,1.5 0 1,0 -3.0,0ZM141.51,305.45a1.5,1.5 0 1,0 3.0,0a1.5,1.5 0 1,0 -3.0,0Z" fill="none" stroke="#66eaf2" stroke-width="0.7"/>
<g transform="translate(9.5,235.0) rotate(-90)"><text x="0" y="0" font-size="12.8" font-weight="normal" text-anchor="middle" fill="#3a3a3a" font-family='"Liberation Sans", Arial, sans-serif' textLength="68.5" lengthAdjust="spacingAndGlyphs">Reflectance</text></g>
<text x="109.8" y="338.6" font-size="12" font-weight="bold" text-anchor="start" fill="#111" font-family='"Liberation Sans", Arial, sans-serif' textLength="49.7" lengthAdjust="spacingAndGlyphs">δ<tspan font-size="8.5" dy="2">ew</tspan><tspan dy="-2">/(1/τ</tspan><tspan font-size="8.5" dy="2">0</tspan><tspan dy="-2">)</tspan></text>
<line x1="31.6" y1="166.9" x2="44.4" y2="166.9" stroke="#111" stroke-width="1.1"/>
<rect x="36.0" y="165.1" width="3.6" height="3.6" fill="#111"/>
<text x="45.8" y="168.8" font-size="8.8" font-weight="normal" text-anchor="start" fill="#000" font-family='"Liberation Sans", Arial, sans-serif' stroke="#000" stroke-width="0.25">f=0.2662<tspan font-size="9.3">τ</tspan><tspan font-size="6" dy="2" fill="#666" stroke="none">NR</tspan><tspan dy="-2">=10<tspan font-size="9.3">τ</tspan></tspan><tspan font-size="6" dy="2" fill="#aaa" stroke="none">0</tspan></text>
<line x1="33" y1="181.9" x2="44.4" y2="181.9" stroke="#e81414" stroke-width="1.1"/>
<circle cx="37.8" cy="181.9" r="2.1" fill="#e81414"/>
<text x="45.8" y="183.8" font-size="8.8" font-weight="normal" text-anchor="start" fill="#000" font-family='"Liberation Sans", Arial, sans-serif' stroke="#000" stroke-width="0.25">f=0.2662<tspan font-size="9.3">τ</tspan><tspan font-size="6" dy="2" fill="#666" stroke="none">NR</tspan><tspan dy="-2">=<tspan font-size="9.3">τ</tspan></tspan><tspan font-size="6" dy="2" fill="#aaa" stroke="none">0</tspan></text>
<line x1="33" y1="197.6" x2="44.4" y2="197.6" stroke="#22dd22" stroke-width="1.1"/>
<polygon points="37.8,195.1 35.5,199.29999999999998 40.099999999999994,199.29999999999998" fill="#22dd22"/>
<text x="45.8" y="199.5" font-size="8.8" font-weight="normal" text-anchor="start" fill="#000" font-family='"Liberation Sans", Arial, sans-serif' stroke="#000" stroke-width="0.25">f=0.2668<tspan font-size="9.3">τ</tspan><tspan font-size="6" dy="2" fill="#666" stroke="none">NR</tspan><tspan dy="-2">=10<tspan font-size="9.3">τ</tspan></tspan><tspan font-size="6" dy="2" fill="#aaa" stroke="none">0</tspan></text>
<line x1="33" y1="213.0" x2="44.4" y2="213.0" stroke="#3535dd" stroke-width="1.1"/>
<rect x="36.0" y="211.2" width="3.6" height="3.6" fill="#fff" stroke="#3535dd" stroke-width="0.9"/>
<text x="45.8" y="214.9" font-size="8.8" font-weight="normal" text-anchor="start" fill="#000" font-family='"Liberation Sans", Arial, sans-serif' stroke="#000" stroke-width="0.25">f=0.2682<tspan font-size="9.3">τ</tspan><tspan font-size="6" dy="2" fill="#666" stroke="none">NR</tspan><tspan dy="-2">=10<tspan font-size="9.3">τ</tspan></tspan><tspan font-size="6" dy="2" fill="#aaa" stroke="none">0</tspan></text>
<line x1="33" y1="227.8" x2="44.4" y2="227.8" stroke="#44e6ee" stroke-width="1.1"/>
<circle cx="37.8" cy="227.8" r="1.9" fill="#fff" stroke="#44e6ee" stroke-width="0.9"/>
<text x="45.8" y="229.70000000000002" font-size="8.8" font-weight="normal" text-anchor="start" fill="#000" font-family='"Liberation Sans", Arial, sans-serif' stroke="#000" stroke-width="0.25">f=0.2827<tspan font-size="9.3">τ</tspan><tspan font-size="6" dy="2" fill="#666" stroke="none">NR</tspan><tspan dy="-2">=10<tspan font-size="9.3">τ</tspan></tspan><tspan font-size="6" dy="2" fill="#aaa" stroke="none">0</tspan></text>
<rect x="182.0" y="138.75" width="119.19999999999999" height="92.5" fill="#fff"/>
<polyline points="181.75,203.50 182.05,203.48 182.35,203.46 182.65,203.43 182.95,203.41 183.25,203.39 183.55,203.37 183.85,203.34 184.15,203.32 184.45,203.30 184.75,203.27 185.05,203.25 185.35,203.22 185.65,203.20 185.94,203.17 186.24,203.15 186.54,203.12 186.84,203.10 187.14,203.07 187.44,203.05 187.74,203.02 188.04,203.00 188.34,202.97 188.64,202.94 188.94,202.92 189.24,202.89 189.54,202.86 189.84,202.83 190.14,202.80 190.44,202.78 190.74,202.75 191.04,202.72 191.34,202.69 191.64,202.66 191.93,202.63 192.23,202.60 192.53,202.57 192.83,202.54 193.13,202.50 193.43,202.47 193.73,202.44 194.03,202.41 194.33,202.38 194.63,202.34 194.93,202.31 195.23,202.28 195.53,202.24 195.83,202.21 196.13,202.17 196.43,202.14 196.73,202.10 197.03,202.06 197.33,202.03 197.62,201.99 197.92,201.95 198.22,201.92 198.52,201.88 198.82,201.84 199.12,201.80 199.42,201.76 199.72,201.72 200.02,201.68 200.32,201.64 200.62,201.60 200.92,201.55 201.22,201.51 201.52,201.47 201.82,201.43 202.12,201.38 202.42,201.34 202.72,201.29 203.02,201.25 203.32,201.20 203.61,201.15 203.91,201.10 204.21,201.06 204.51,201.01 204.81,200.96 205.11,200.91 205.41,200.86 205.71,200.81 206.01,200.75 206.31,200.70 206.61,200.65 206.91,200.59 207.21,200.54 207.51,200.48 207.81,200.43 208.11,200.37 208.41,200.31 208.71,200.25 209.01,200.20 209.30,200.14 209.60,200.07 209.90,200.01 210.20,199.95 210.50,199.89 210.80,199.82 211.10,199.76 211.40,199.69 211.70,199.62 212.00,199.55 212.30,199.49 212.60,199.42 212.90,199.34 213.20,199.27 213.50,199.20 213.80,199.12 214.10,199.05 214.40,198.97 214.70,198.90 215.00,198.82 215.29,198.74 215.59,198.66 215.89,198.57 216.19,198.49 216.49,198.40 216.79,198.32 217.09,198.23 217.39,198.14 217.69,198.05 217.99,197.96 218.29,197.87 218.59,197.77 218.89,197.68 219.19,197.58 219.49,197.48 219.79,197.38 220.09,197.28 220.39,197.18 220.69,197.07 220.99,196.97 221.28,196.86 221.58,196.75 221.88,196.64 222.18,196.52 222.48,196.41 222.78,196.29 223.08,196.17 223.38,196.05 223.68,195.93 223.98,195.81 224.28,195.68 224.58,195.55 224.88,195.42 225.18,195.29 225.48,195.16 225.78,195.02 226.08,194.88 226.38,194.74 226.68,194.60 226.97,194.45 227.27,194.31 227.57,194.16 227.87,194.01 228.17,193.86 228.47,193.70 228.77,193.54 229.07,193.38 229.37,193.22 229.67,193.06 229.97,192.89 230.27,192.72 230.57,192.55 230.87,192.37 231.17,192.20 231.47,192.02 231.77,191.84 232.07,191.66 232.37,191.47 232.67,191.29 232.96,191.10 233.26,190.91 233.56,190.71 233.86,190.52 234.16,190.32 234.46,190.12 234.76,189.92 235.06,189.71 235.36,189.51 235.66,189.30 235.96,189.09 236.26,188.88 236.56,188.67 236.86,188.45 237.16,188.24 237.46,188.02 237.76,187.80 238.06,187.58 238.36,187.36 238.65,187.14 238.95,186.92 239.25,186.70 239.55,186.47 239.85,186.25 240.15,186.02 240.45,185.79 240.75,185.57 241.05,185.34 241.35,185.11 241.65,184.89 241.95,184.66 242.25,184.43 242.55,184.21 242.85,183.98 243.15,183.75 243.45,183.53 243.75,183.30 244.05,183.08 244.35,182.86 244.64,182.64 244.94,182.42 245.24,182.20 245.54,181.98 245.84,181.76 246.14,181.55 246.44,181.33 246.74,181.12 247.04,180.91 247.34,180.70 247.64,180.49 247.94,180.29 248.24,180.08 248.54,179.88 248.84,179.68 249.14,179.48 249.44,179.29 249.74,179.09 250.04,178.90 250.33,178.71 250.63,178.53 250.93,178.34 251.23,178.16 251.53,177.98 251.83,177.80 252.13,177.63 252.43,177.45 252.73,177.28 253.03,177.11 253.33,176.94 253.63,176.78 253.93,176.62 254.23,176.46 254.53,176.30 254.83,176.14 255.13,175.99 255.43,175.84 255.73,175.69 256.03,175.55 256.32,175.40 256.62,175.26 256.92,175.12 257.22,174.98 257.52,174.84 257.82,174.71 258.12,174.58 258.42,174.45 258.72,174.32 259.02,174.19 259.32,174.07 259.62,173.95 259.92,173.83 260.22,173.71 260.52,173.59 260.82,173.48 261.12,173.36 261.42,173.25 261.72,173.14 262.01,173.03 262.31,172.93 262.61,172.82 262.91,172.72 263.21,172.62 263.51,172.52 263.81,172.42 264.11,172.32 264.41,172.23 264.71,172.13 265.01,172.04 265.31,171.95 265.61,171.86 265.91,171.77 266.21,171.68 266.51,171.60 266.81,171.51 267.11,171.43 267.41,171.34 267.71,171.26 268.00,171.18 268.30,171.10 268.60,171.03 268.90,170.95 269.20,170.88 269.50,170.80 269.80,170.73 270.10,170.66 270.40,170.58 270.70,170.51 271.00,170.45 271.30,170.38 271.60,170.31 271.90,170.24 272.20,170.18 272.50,170.11 272.80,170.05 273.10,169.99 273.40,169.93 273.70,169.86 273.99,169.80 274.29,169.75 274.59,169.69 274.89,169.63 275.19,169.57 275.49,169.52 275.79,169.46 276.09,169.41 276.39,169.35 276.69,169.30 276.99,169.25 277.29,169.19 277.59,169.14 277.89,169.09 278.19,169.04 278.49,168.99 278.79,168.94 279.09,168.90 279.39,168.85 279.68,168.80 279.98,168.75 280.28,168.71 280.58,168.66 280.88,168.62 281.18,168.57 281.48,168.53 281.78,168.49 282.08,168.45 282.38,168.40 282.68,168.36 282.98,168.32 283.28,168.28 283.58,168.24 283.88,168.20 284.18,168.16 284.48,168.12 284.78,168.08 285.08,168.05 285.38,168.01 285.67,167.97 285.97,167.94 286.27,167.90 286.57,167.86 286.87,167.83 287.17,167.79 287.47,167.76 287.77,167.72 288.07,167.69 288.37,167.66 288.67,167.62 288.97,167.59 289.27,167.56 289.57,167.53 289.87,167.50 290.17,167.46 290.47,167.43 290.77,167.40 291.07,167.37 291.36,167.34 291.66,167.31 291.96,167.28 292.26,167.25 292.56,167.22 292.86,167.20 293.16,167.17 293.46,167.14 293.76,167.11 294.06,167.08 294.36,167.06 294.66,167.03 294.96,167.00 295.26,166.98 295.56,166.95 295.86,166.93 296.16,166.90 296.46,166.88 296.76,166.85 297.06,166.83 297.35,166.80 297.65,166.78 297.95,166.75 298.25,166.73 298.55,166.70 298.85,166.68 299.15,166.66 299.45,166.63 299.75,166.61 300.05,166.59 300.35,166.57 300.65,166.54 300.95,166.52 301.25,166.50" fill="none" stroke="#ee1111" stroke-width="3"/>
<polyline points="181.75,187.89 182.05,187.92 182.35,187.95 182.65,187.98 182.95,188.01 183.25,188.03 183.55,188.06 183.85,188.09 184.15,188.12 184.45,188.15 184.75,188.19 185.05,188.22 185.35,188.25 185.65,188.28 185.94,188.31 186.24,188.35 186.54,188.38 186.84,188.42 187.14,188.45 187.44,188.49 187.74,188.52 188.04,188.56 188.34,188.60 188.64,188.63 188.94,188.67 189.24,188.71 189.54,188.75 189.84,188.79 190.14,188.83 190.44,188.87 190.74,188.91 191.04,188.96 191.34,189.00 191.64,189.04 191.93,189.09 192.23,189.13 192.53,189.18 192.83,189.23 193.13,189.27 193.43,189.32 193.73,189.37 194.03,189.42 194.33,189.47 194.63,189.52 194.93,189.58 195.23,189.63 195.53,189.69 195.83,189.74 196.13,189.80 196.43,189.85 196.73,189.91 197.03,189.97 197.33,190.03 197.62,190.09 197.92,190.16 198.22,190.22 198.52,190.28 198.82,190.35 199.12,190.42 199.42,190.49 199.72,190.55 200.02,190.63 200.32,190.70 200.62,190.77 200.92,190.85 201.22,190.92 201.52,191.00 201.82,191.08 202.12,191.16 202.42,191.24 202.72,191.32 203.02,191.41 203.32,191.50 203.61,191.58 203.91,191.67 204.21,191.77 204.51,191.86 204.81,191.96 205.11,192.05 205.41,192.15 205.71,192.25 206.01,192.36 206.31,192.46 206.61,192.57 206.91,192.68 207.21,192.79 207.51,192.91 207.81,193.02 208.11,193.14 208.41,193.26 208.71,193.39 209.01,193.51 209.30,193.64 209.60,193.78 209.90,193.91 210.20,194.05 210.50,194.19 210.80,194.33 211.10,194.48 211.40,194.63 211.70,194.78 212.00,194.94 212.30,195.10 212.60,195.26 212.90,195.43 213.20,195.60 213.50,195.78 213.80,195.96 214.10,196.14 214.40,196.33 214.70,196.52 215.00,196.71 215.29,196.91 215.59,197.12 215.89,197.33 216.19,197.54 216.49,197.76 216.79,197.98 217.09,198.21 217.39,198.45 217.69,198.69 217.99,198.93 218.29,199.18 218.59,199.44 218.89,199.70 219.19,199.97 219.49,200.24 219.79,200.53 220.09,200.81 220.39,201.11 220.69,201.41 220.99,201.72 221.28,202.03 221.58,202.36 221.88,202.68 222.18,203.02 222.48,203.37 222.78,203.72 223.08,204.08 223.38,204.45 223.68,204.83 223.98,205.21 224.28,205.60 224.58,206.01 224.88,206.42 225.18,206.83 225.48,207.26 225.78,207.70 226.08,208.14 226.38,208.60 226.68,209.06 226.97,209.53 227.27,210.01 227.57,210.50 227.87,210.99 228.17,211.50 228.47,212.01 228.77,212.53 229.07,213.06 229.37,213.59 229.67,214.14 229.97,214.68 230.27,215.24 230.57,215.80 230.87,216.37 231.17,216.94 231.47,217.51 231.77,218.09 232.07,218.67 232.37,219.25 232.67,219.84 232.96,220.42 233.26,221.00 233.56,221.58 233.86,222.15 234.16,222.72 234.46,223.29 234.76,223.85 235.06,224.39 235.36,224.93 235.66,225.46 235.96,225.97 236.26,226.47 236.56,226.95 236.86,227.41 237.16,227.86 237.46,228.28 237.76,228.68 238.06,229.06 238.36,229.41 238.65,229.73 238.95,230.03 239.25,230.29 239.55,230.53 239.85,230.73 240.15,230.90 240.45,231.04 240.75,231.14 241.05,231.21 241.35,231.25 241.65,231.25 241.95,231.21 242.25,231.14 242.55,231.04 242.85,230.90 243.15,230.73 243.45,230.53 243.75,230.29 244.05,230.03 244.35,229.73 244.64,229.41 244.94,229.06 245.24,228.68 245.54,228.28 245.84,227.86 246.14,227.41 246.44,226.95 246.74,226.47 247.04,225.97 247.34,225.46 247.64,224.93 247.94,224.39 248.24,223.85 248.54,223.29 248.84,222.72 249.14,222.15 249.44,221.58 249.74,221.00 250.04,220.42 250.33,219.84 250.63,219.25 250.93,218.67 251.23,218.09 251.53,217.51 251.83,216.94 252.13,216.37 252.43,215.80 252.73,215.24 253.03,214.68 253.33,214.14 253.63,213.59 253.93,213.06 254.23,212.53 254.53,212.01 254.83,211.50 255.13,210.99 255.43,210.50 255.73,210.01 256.03,209.53 256.32,209.06 256.62,208.60 256.92,208.14 257.22,207.70 257.52,207.26 257.82,206.83 258.12,206.42 258.42,206.01 258.72,205.60 259.02,205.21 259.32,204.83 259.62,204.45 259.92,204.08 260.22,203.72 260.52,203.37 260.82,203.02 261.12,202.68 261.42,202.36 261.72,202.03 262.01,201.72 262.31,201.41 262.61,201.11 262.91,200.81 263.21,200.53 263.51,200.24 263.81,199.97 264.11,199.70 264.41,199.44 264.71,199.18 265.01,198.93 265.31,198.69 265.61,198.45 265.91,198.21 266.21,197.98 266.51,197.76 266.81,197.54 267.11,197.33 267.41,197.12 267.71,196.91 268.00,196.71 268.30,196.52 268.60,196.33 268.90,196.14 269.20,195.96 269.50,195.78 269.80,195.60 270.10,195.43 270.40,195.26 270.70,195.10 271.00,194.94 271.30,194.78 271.60,194.63 271.90,194.48 272.20,194.33 272.50,194.19 272.80,194.05 273.10,193.91 273.40,193.78 273.70,193.64 273.99,193.51 274.29,193.39 274.59,193.26 274.89,193.14 275.19,193.02 275.49,192.91 275.79,192.79 276.09,192.68 276.39,192.57 276.69,192.46 276.99,192.36 277.29,192.25 277.59,192.15 277.89,192.05 278.19,191.96 278.49,191.86 278.79,191.77 279.09,191.67 279.39,191.58 279.68,191.50 279.98,191.41 280.28,191.32 280.58,191.24 280.88,191.16 281.18,191.08 281.48,191.00 281.78,190.92 282.08,190.85 282.38,190.77 282.68,190.70 282.98,190.63 283.28,190.55 283.58,190.49 283.88,190.42 284.18,190.35 284.48,190.28 284.78,190.22 285.08,190.16 285.38,190.09 285.67,190.03 285.97,189.97 286.27,189.91 286.57,189.85 286.87,189.80 287.17,189.74 287.47,189.69 287.77,189.63 288.07,189.58 288.37,189.52 288.67,189.47 288.97,189.42 289.27,189.37 289.57,189.32 289.87,189.27 290.17,189.23 290.47,189.18 290.77,189.13 291.07,189.09 291.36,189.04 291.66,189.00 291.96,188.96 292.26,188.91 292.56,188.87 292.86,188.83 293.16,188.79 293.46,188.75 293.76,188.71 294.06,188.67 294.36,188.63 294.66,188.60 294.96,188.56 295.26,188.52 295.56,188.49 295.86,188.45 296.16,188.42 296.46,188.38 296.76,188.35 297.06,188.31 297.35,188.28 297.65,188.25 297.95,188.22 298.25,188.19 298.55,188.15 298.85,188.12 299.15,188.09 299.45,188.06 299.75,188.03 300.05,188.01 300.35,187.98 300.65,187.95 300.95,187.92 301.25,187.89" fill="none" stroke="#33ee33" stroke-width="3"/>
<polyline points="181.75,174.25 182.05,174.20 182.35,174.15 182.65,174.10 182.95,174.05 183.25,174.00 183.55,173.95 183.85,173.90 184.15,173.85 184.45,173.80 184.75,173.75 185.05,173.70 185.35,173.64 185.65,173.59 185.94,173.54 186.24,173.48 186.54,173.43 186.84,173.37 187.14,173.32 187.44,173.26 187.74,173.21 188.04,173.15 188.34,173.09 188.64,173.04 188.94,172.98 189.24,172.92 189.54,172.86 189.84,172.80 190.14,172.74 190.44,172.68 190.74,172.62 191.04,172.55 191.34,172.49 191.64,172.43 191.93,172.37 192.23,172.30 192.53,172.24 192.83,172.17 193.13,172.10 193.43,172.04 193.73,171.97 194.03,171.90 194.33,171.83 194.63,171.77 194.93,171.70 195.23,171.63 195.53,171.55 195.83,171.48 196.13,171.41 196.43,171.34 196.73,171.26 197.03,171.19 197.33,171.12 197.62,171.04 197.92,170.96 198.22,170.89 198.52,170.81 198.82,170.73 199.12,170.65 199.42,170.57 199.72,170.49 200.02,170.41 200.32,170.33 200.62,170.24 200.92,170.16 201.22,170.08 201.52,169.99 201.82,169.91 202.12,169.82 202.42,169.73 202.72,169.64 203.02,169.55 203.32,169.46 203.61,169.37 203.91,169.28 204.21,169.19 204.51,169.10 204.81,169.00 205.11,168.91 205.41,168.81 205.71,168.72 206.01,168.62 206.31,168.52 206.61,168.42 206.91,168.32 207.21,168.22 207.51,168.12 207.81,168.02 208.11,167.92 208.41,167.81 208.71,167.71 209.01,167.60 209.30,167.50 209.60,167.39 209.90,167.28 210.20,167.17 210.50,167.06 210.80,166.95 211.10,166.84 211.40,166.73 211.70,166.62 212.00,166.51 212.30,166.40 212.60,166.28 212.90,166.17 213.20,166.05 213.50,165.94 213.80,165.82 214.10,165.71 214.40,165.59 214.70,165.47 215.00,165.36 215.29,165.24 215.59,165.12 215.89,165.00 216.19,164.89 216.49,164.77 216.79,164.65 217.09,164.54 217.39,164.42 217.69,164.30 217.99,164.19 218.29,164.07 218.59,163.96 218.89,163.84 219.19,163.73 219.49,163.62 219.79,163.51 220.09,163.40 220.39,163.29 220.69,163.19 220.99,163.08 221.28,162.98 221.58,162.89 221.88,162.79 222.18,162.70 222.48,162.61 222.78,162.52 223.08,162.44 223.38,162.36 223.68,162.29 223.98,162.22 224.28,162.15 224.58,162.09 224.88,162.04 225.18,162.00 225.48,161.96 225.78,161.92 226.08,161.90 226.38,161.88 226.68,161.88 226.97,161.88 227.27,161.89 227.57,161.91 227.87,161.95 228.17,161.99 228.47,162.05 228.77,162.12 229.07,162.21 229.37,162.31 229.67,162.42 229.97,162.55 230.27,162.70 230.57,162.87 230.87,163.06 231.17,163.26 231.47,163.49 231.77,163.73 232.07,164.00 232.37,164.29 232.67,164.60 232.96,164.94 233.26,165.30 233.56,165.69 233.86,166.11 234.16,166.55 234.46,167.02 234.76,167.51 235.06,168.03 235.36,168.58 235.66,169.16 235.96,169.77 236.26,170.40 236.56,171.06 236.86,171.75 237.16,172.46 237.46,173.20 237.76,173.96 238.06,174.75 238.36,175.56 238.65,176.39 238.95,177.24 239.25,178.11 239.55,179.00 239.85,179.89 240.15,180.81 240.45,181.73 240.75,182.66 241.05,183.59 241.35,184.53 241.65,185.47 241.95,186.41 242.25,187.34 242.55,188.27 242.85,189.19 243.15,190.11 243.45,191.00 243.75,191.89 244.05,192.76 244.35,193.61 244.64,194.44 244.94,195.25 245.24,196.04 245.54,196.80 245.84,197.54 246.14,198.25 246.44,198.94 246.74,199.60 247.04,200.23 247.34,200.84 247.64,201.42 247.94,201.97 248.24,202.49 248.54,202.98 248.84,203.45 249.14,203.89 249.44,204.31 249.74,204.70 250.04,205.06 250.33,205.40 250.63,205.71 250.93,206.00 251.23,206.27 251.53,206.51 251.83,206.74 252.13,206.94 252.43,207.13 252.73,207.30 253.03,207.45 253.33,207.58 253.63,207.69 253.93,207.79 254.23,207.88 254.53,207.95 254.83,208.01 255.13,208.05 255.43,208.09 255.73,208.11 256.03,208.12 256.32,208.12 256.62,208.12 256.92,208.10 257.22,208.08 257.52,208.04 257.82,208.00 258.12,207.96 258.42,207.91 258.72,207.85 259.02,207.78 259.32,207.71 259.62,207.64 259.92,207.56 260.22,207.48 260.52,207.39 260.82,207.30 261.12,207.21 261.42,207.11 261.72,207.02 262.01,206.92 262.31,206.81 262.61,206.71 262.91,206.60 263.21,206.49 263.51,206.38 263.81,206.27 264.11,206.16 264.41,206.04 264.71,205.93 265.01,205.81 265.31,205.70 265.61,205.58 265.91,205.46 266.21,205.35 266.51,205.23 266.81,205.11 267.11,205.00 267.41,204.88 267.71,204.76 268.00,204.64 268.30,204.53 268.60,204.41 268.90,204.29 269.20,204.18 269.50,204.06 269.80,203.95 270.10,203.83 270.40,203.72 270.70,203.60 271.00,203.49 271.30,203.38 271.60,203.27 271.90,203.16 272.20,203.05 272.50,202.94 272.80,202.83 273.10,202.72 273.40,202.61 273.70,202.50 273.99,202.40 274.29,202.29 274.59,202.19 274.89,202.08 275.19,201.98 275.49,201.88 275.79,201.78 276.09,201.68 276.39,201.58 276.69,201.48 276.99,201.38 277.29,201.28 277.59,201.19 277.89,201.09 278.19,201.00 278.49,200.90 278.79,200.81 279.09,200.72 279.39,200.63 279.68,200.54 279.98,200.45 280.28,200.36 280.58,200.27 280.88,200.18 281.18,200.09 281.48,200.01 281.78,199.92 282.08,199.84 282.38,199.76 282.68,199.67 282.98,199.59 283.28,199.51 283.58,199.43 283.88,199.35 284.18,199.27 284.48,199.19 284.78,199.11 285.08,199.04 285.38,198.96 285.67,198.88 285.97,198.81 286.27,198.74 286.57,198.66 286.87,198.59 287.17,198.52 287.47,198.45 287.77,198.37 288.07,198.30 288.37,198.23 288.67,198.17 288.97,198.10 289.27,198.03 289.57,197.96 289.87,197.90 290.17,197.83 290.47,197.76 290.77,197.70 291.07,197.63 291.36,197.57 291.66,197.51 291.96,197.45 292.26,197.38 292.56,197.32 292.86,197.26 293.16,197.20 293.46,197.14 293.76,197.08 294.06,197.02 294.36,196.96 294.66,196.91 294.96,196.85 295.26,196.79 295.56,196.74 295.86,196.68 296.16,196.63 296.46,196.57 296.76,196.52 297.06,196.46 297.35,196.41 297.65,196.36 297.95,196.30 298.25,196.25 298.55,196.20 298.85,196.15 299.15,196.10 299.45,196.05 299.75,196.00 300.05,195.95 300.35,195.90 300.65,195.85 300.95,195.80 301.25,195.75" fill="none" stroke="#2222ee" stroke-width="3"/>
<rect x="182.0" y="138.75" width="119.19999999999999" height="92.5" fill="none" stroke="#222" stroke-width="1.3"/>
<text x="181.6" y="140.75" font-size="7.9" font-weight="bold" text-anchor="end" fill="#111" font-family='"Liberation Sans", Arial, sans-serif' stroke="#111" stroke-width="0.25">1.0</text>
<line x1="182.0" y1="138.75" x2="184.5" y2="138.75" stroke="#222" stroke-width="0.9"/>
<text x="181.6" y="163.875" font-size="7.9" font-weight="bold" text-anchor="end" fill="#111" font-family='"Liberation Sans", Arial, sans-serif' stroke="#111" stroke-width="0.25">0.5</text>
<line x1="182.0" y1="161.88" x2="184.5" y2="161.88" stroke="#222" stroke-width="0.9"/>
<text x="181.6" y="187.0" font-size="7.9" font-weight="bold" text-anchor="end" fill="#111" font-family='"Liberation Sans", Arial, sans-serif' stroke="#111" stroke-width="0.25">0.0</text>
<line x1="182.0" y1="185.00" x2="184.5" y2="185.00" stroke="#222" stroke-width="0.9"/>
<text x="181.6" y="210.125" font-size="7.9" font-weight="bold" text-anchor="end" fill="#111" font-family='"Liberation Sans", Arial, sans-serif' stroke="#111" stroke-width="0.25">-0.5</text>
<line x1="182.0" y1="208.12" x2="184.5" y2="208.12" stroke="#222" stroke-width="0.9"/>
<text x="181.6" y="233.25" font-size="7.9" font-weight="bold" text-anchor="end" fill="#111" font-family='"Liberation Sans", Arial, sans-serif' stroke="#111" stroke-width="0.25">-1.0</text>
<line x1="182.0" y1="231.25" x2="184.5" y2="231.25" stroke="#222" stroke-width="0.9"/>
<text x="181.752" y="241.0" font-size="7.9" font-weight="bold" text-anchor="middle" fill="#111" font-family='"Liberation Sans", Arial, sans-serif' stroke="#111" stroke-width="0.25">-60</text>
<line x1="181.75" y1="231.25" x2="181.75" y2="228.75" stroke="#222" stroke-width="0.9"/>
<line x1="181.75" y1="138.75" x2="181.75" y2="141.25" stroke="#222" stroke-width="0.9"/>
<text x="201.668" y="241.0" font-size="7.9" font-weight="bold" text-anchor="middle" fill="#111" font-family='"Liberation Sans", Arial, sans-serif' stroke="#111" stroke-width="0.25">-40</text>
<line x1="201.67" y1="231.25" x2="201.67" y2="228.75" stroke="#222" stroke-width="0.9"/>
<line x1="201.67" y1="138.75" x2="201.67" y2="141.25" stroke="#222" stroke-width="0.9"/>
<text x="221.584" y="241.0" font-size="7.9" font-weight="bold" text-anchor="middle" fill="#111" font-family='"Liberation Sans", Arial, sans-serif' stroke="#111" stroke-width="0.25">-20</text>
<line x1="221.58" y1="231.25" x2="221.58" y2="228.75" stroke="#222" stroke-width="0.9"/>
<line x1="221.58" y1="138.75" x2="221.58" y2="141.25" stroke="#222" stroke-width="0.9"/>
<text x="241.5" y="241.0" font-size="7.9" font-weight="bold" text-anchor="middle" fill="#111" font-family='"Liberation Sans", Arial, sans-serif' stroke="#111" stroke-width="0.25">0</text>
<line x1="241.50" y1="231.25" x2="241.50" y2="228.75" stroke="#222" stroke-width="0.9"/>
<line x1="241.50" y1="138.75" x2="241.50" y2="141.25" stroke="#222" stroke-width="0.9"/>
<text x="261.416" y="241.0" font-size="7.9" font-weight="bold" text-anchor="middle" fill="#111" font-family='"Liberation Sans", Arial, sans-serif' stroke="#111" stroke-width="0.25">20</text>
<line x1="261.42" y1="231.25" x2="261.42" y2="228.75" stroke="#222" stroke-width="0.9"/>
<line x1="261.42" y1="138.75" x2="261.42" y2="141.25" stroke="#222" stroke-width="0.9"/>
<text x="281.332" y="241.0" font-size="7.9" font-weight="bold" text-anchor="middle" fill="#111" font-family='"Liberation Sans", Arial, sans-serif' stroke="#111" stroke-width="0.25">40</text>
<line x1="281.33" y1="231.25" x2="281.33" y2="228.75" stroke="#222" stroke-width="0.9"/>
<line x1="281.33" y1="138.75" x2="281.33" y2="141.25" stroke="#222" stroke-width="0.9"/>
<text x="301.248" y="241.0" font-size="7.9" font-weight="bold" text-anchor="middle" fill="#111" font-family='"Liberation Sans", Arial, sans-serif' stroke="#111" stroke-width="0.25">60</text>
<line x1="301.25" y1="231.25" x2="301.25" y2="228.75" stroke="#222" stroke-width="0.9"/>
<line x1="301.25" y1="138.75" x2="301.25" y2="141.25" stroke="#222" stroke-width="0.9"/>
<line x1="191.71" y1="231.25" x2="191.71" y2="229.75" stroke="#222" stroke-width="0.8"/>
<line x1="191.71" y1="138.75" x2="191.71" y2="140.25" stroke="#222" stroke-width="0.8"/>
<line x1="211.63" y1="231.25" x2="211.63" y2="229.75" stroke="#222" stroke-width="0.8"/>
<line x1="211.63" y1="138.75" x2="211.63" y2="140.25" stroke="#222" stroke-width="0.8"/>
<line x1="231.54" y1="231.25" x2="231.54" y2="229.75" stroke="#222" stroke-width="0.8"/>
<line x1="231.54" y1="138.75" x2="231.54" y2="140.25" stroke="#222" stroke-width="0.8"/>
<line x1="251.46" y1="231.25" x2="251.46" y2="229.75" stroke="#222" stroke-width="0.8"/>
<line x1="251.46" y1="138.75" x2="251.46" y2="140.25" stroke="#222" stroke-width="0.8"/>
<line x1="271.37" y1="231.25" x2="271.37" y2="229.75" stroke="#222" stroke-width="0.8"/>
<line x1="271.37" y1="138.75" x2="271.37" y2="140.25" stroke="#222" stroke-width="0.8"/>
<line x1="291.29" y1="231.25" x2="291.29" y2="229.75" stroke="#222" stroke-width="0.8"/>
<line x1="291.29" y1="138.75" x2="291.29" y2="140.25" stroke="#222" stroke-width="0.8"/>
<line x1="182.0" y1="150.31" x2="183.5" y2="150.31" stroke="#222" stroke-width="0.8"/>
<line x1="182.0" y1="173.44" x2="183.5" y2="173.44" stroke="#222" stroke-width="0.8"/>
<line x1="182.0" y1="196.56" x2="183.5" y2="196.56" stroke="#222" stroke-width="0.8"/>
<line x1="182.0" y1="219.69" x2="183.5" y2="219.69" stroke="#222" stroke-width="0.8"/>
<text x="303.0" y="140.75" font-size="7.9" font-weight="bold" text-anchor="start" fill="#111" font-family='"Liberation Sans", Arial, sans-serif' stroke="#111" stroke-width="0.25">2</text>
<text x="303.0" y="187.0" font-size="7.9" font-weight="bold" text-anchor="start" fill="#111" font-family='"Liberation Sans", Arial, sans-serif' stroke="#111" stroke-width="0.25">1</text>
<text x="303.0" y="233.25" font-size="7.9" font-weight="bold" text-anchor="start" fill="#111" font-family='"Liberation Sans", Arial, sans-serif' stroke="#111" stroke-width="0.25">0</text>
<g transform="translate(168.2,185.2) rotate(-90)"><text x="0" y="0" font-size="10.4" font-weight="bold" text-anchor="middle" fill="#111" font-family='"Liberation Sans", Arial, sans-serif' textLength="50.5" lengthAdjust="spacingAndGlyphs">Reflection</text></g>
<g transform="translate(316.0,186) rotate(-90)"><text x="0" y="0" font-size="10" font-weight="bold" text-anchor="middle" fill="#111" font-family='"Liberation Sans", Arial, sans-serif' textLength="16.7" lengthAdjust="spacingAndGlyphs">φ/π</text></g>
<text x="215.5" y="255.2" font-size="11.5" font-weight="bold" text-anchor="start" fill="#111" font-family='"Liberation Sans", Arial, sans-serif' textLength="53.3" lengthAdjust="spacingAndGlyphs">δ<tspan font-size="8" dy="2">ew</tspan><tspan dy="-2">/(1/τ</tspan><tspan font-size="8" dy="2">0</tspan><tspan dy="-2">)</tspan></text>
<circle cx="242.5" cy="145.7" r="1.3" fill="#22ee22"/>
<text x="248.5" y="148.39999999999998" font-size="7.7" font-weight="normal" text-anchor="start" fill="#111" font-family='"Liberation Sans", Arial, sans-serif' stroke="#111" stroke-width="0.2">Re(r)</text>
<circle cx="242.5" cy="155.7" r="1.3" fill="#2222ee"/>
<text x="248.5" y="158.39999999999998" font-size="7.7" font-weight="normal" text-anchor="start" fill="#111" font-family='"Liberation Sans", Arial, sans-serif' stroke="#111" stroke-width="0.2">Im(r)</text>
<circle cx="242.5" cy="165.7" r="1.3" fill="#ee1111"/>
<text x="248.5" y="168.39999999999998" font-size="7.7" font-weight="normal" text-anchor="start" fill="#111" font-family='"Liberation Sans", Arial, sans-serif' stroke="#111" stroke-width="0.2">Phase</text>
</svg></body></html>
